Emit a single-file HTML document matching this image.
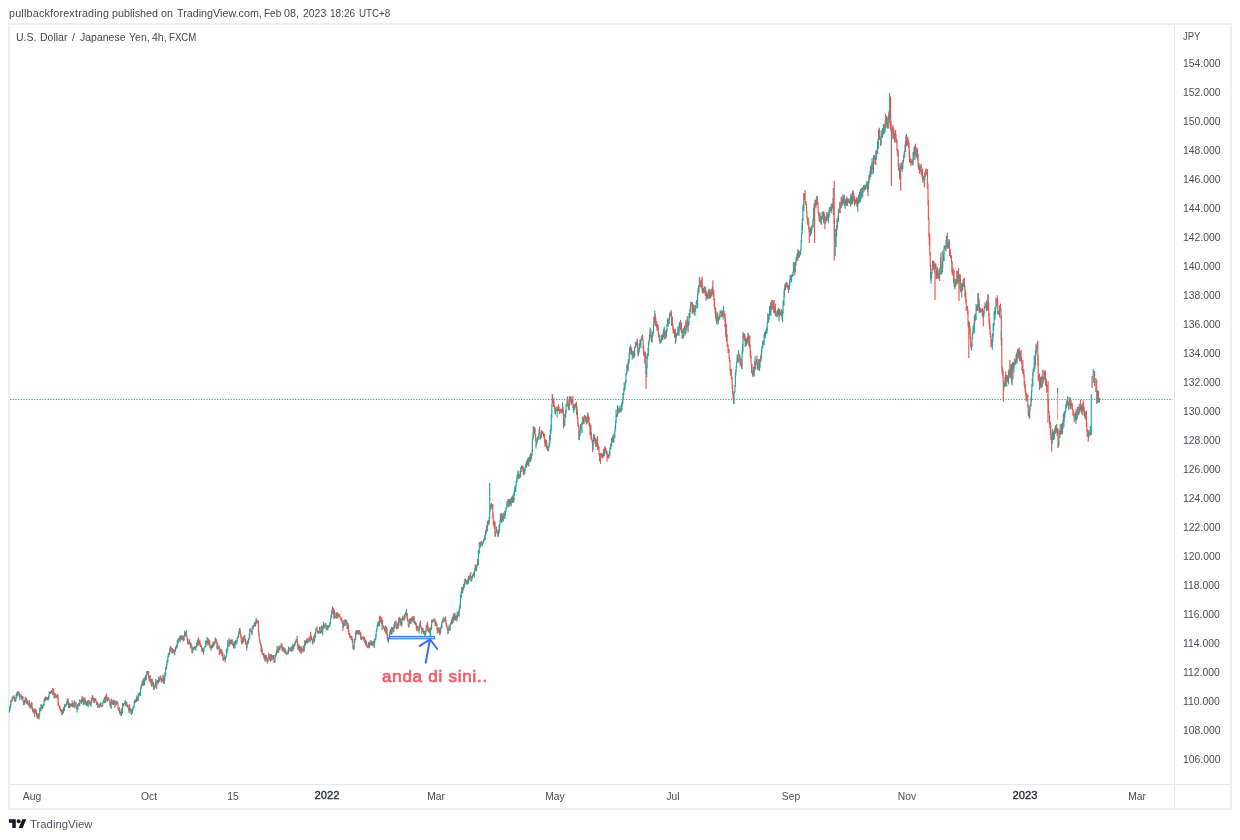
<!DOCTYPE html>
<html><head><meta charset="utf-8"><style>
html,body{-webkit-font-smoothing:antialiased;margin:0;padding:0;background:#fff;width:1240px;height:840px;overflow:hidden;position:relative;font-family:"Liberation Sans",sans-serif;}
.hdr,.sym,.pl,.tl,.jpy,.brand,.note{will-change:transform;}
.hdr{position:absolute;top:7px;font-size:10.75px;color:#434651;white-space:nowrap;line-height:13px;}
.frame{position:absolute;left:8px;top:23px;width:1220px;height:783px;border:2px solid #eceef3;}
.vl{position:absolute;left:1174px;top:25px;width:1px;height:783px;background:#e3e4e9;}
.hl{position:absolute;left:10px;top:784px;width:1220px;height:1px;background:#e6e7ea;}
.sym{position:absolute;top:31px;font-size:10.5px;color:#434651;white-space:nowrap;line-height:13px;}
.pl{position:absolute;left:1183px;font-size:10.4px;color:#4a4d57;line-height:13px;white-space:nowrap;}
.tl{position:absolute;top:790px;width:60px;text-align:center;font-size:10.3px;color:#4a4d57;line-height:13px;}
.tl.b{font-weight:normal;color:#2a2e39;font-size:11.2px;-webkit-text-stroke:0.35px #2a2e39;top:789.1px;}
.jpy{position:absolute;left:1183px;top:30px;font-size:10.3px;color:#4a4d57;line-height:13px;}
.brand{position:absolute;left:30px;top:818px;font-size:11.35px;color:#50535e;line-height:13px;}
.note{position:absolute;left:382px;top:666.8px;font-size:17px;letter-spacing:0.75px;font-weight:normal;-webkit-text-stroke:0.7px #f45b6b;color:#f45b6b;line-height:20px;white-space:nowrap;}
svg{position:absolute;left:0;top:0;}
.sx{display:inline-block;transform-origin:0 0;}
</style></head><body>
<div class="hdr" style="left:9.4px"><span style="letter-spacing:0.2px">pullbackforextrading</span></div><div class="hdr" style="left:112.0px">published</div><div class="hdr" style="left:161.0px">on</div><div class="hdr" style="left:176.6px">TradingView.com,</div><div class="hdr" style="left:263.9px"><span class="sx" style="transform:scaleX(.93)">Feb</span></div><div class="hdr" style="left:284.2px">08,</div><div class="hdr" style="left:303.4px"><span class="sx" style="transform:scaleX(.97)">2023</span></div><div class="hdr" style="left:329.8px"><span class="sx" style="transform:scaleX(.93)">18:26</span></div><div class="hdr" style="left:358.5px"><span class="sx" style="transform:scaleX(.91)">UTC+8</span></div>
<div class="frame"></div>
<div class="vl"></div><div class="hl"></div>
<div class="sym" style="left:15.6px">U.S.</div><div class="sym" style="left:39.8px">Dollar</div><div class="sym" style="left:72.0px">/</div><div class="sym" style="left:80.2px">Japanese</div><div class="sym" style="left:128.5px">Yen,</div><div class="sym" style="left:151.9px">4h,</div><div class="sym" style="left:169.4px"><span class="sx" style="transform:scaleX(.92)">FXCM</span></div>
<div class="jpy"><span class="sx" style="transform:scaleX(.92)">JPY</span></div>
<div class="pl" style="top:56.8px">154.000</div><div class="pl" style="top:85.8px">152.000</div><div class="pl" style="top:114.8px">150.000</div><div class="pl" style="top:143.8px">148.000</div><div class="pl" style="top:172.8px">146.000</div><div class="pl" style="top:201.8px">144.000</div><div class="pl" style="top:230.8px">142.000</div><div class="pl" style="top:259.8px">140.000</div><div class="pl" style="top:288.8px">138.000</div><div class="pl" style="top:317.8px">136.000</div><div class="pl" style="top:346.8px">134.000</div><div class="pl" style="top:375.8px">132.000</div><div class="pl" style="top:404.8px">130.000</div><div class="pl" style="top:433.8px">128.000</div><div class="pl" style="top:462.8px">126.000</div><div class="pl" style="top:491.8px">124.000</div><div class="pl" style="top:520.8px">122.000</div><div class="pl" style="top:549.8px">120.000</div><div class="pl" style="top:578.8px">118.000</div><div class="pl" style="top:607.8px">116.000</div><div class="pl" style="top:636.8px">114.000</div><div class="pl" style="top:665.8px">112.000</div><div class="pl" style="top:694.8px">110.000</div><div class="pl" style="top:723.8px">108.000</div><div class="pl" style="top:752.8px">106.000</div>
<div class="tl" style="left:1.5px">Aug</div><div class="tl" style="left:119.0px">Oct</div><div class="tl" style="left:203.0px">15</div><div class="tl b" style="left:297.0px">2022</div><div class="tl" style="left:406.0px">Mar</div><div class="tl" style="left:525.0px">May</div><div class="tl" style="left:643.0px">Jul</div><div class="tl" style="left:761.0px">Sep</div><div class="tl" style="left:876.5px">Nov</div><div class="tl b" style="left:995.0px">2023</div><div class="tl" style="left:1106.5px">Mar</div>
<svg width="1240" height="840" viewBox="0 0 1240 840">
<line x1="10" y1="399.5" x2="1172.5" y2="399.5" stroke="#26a69a" stroke-width="1" stroke-dasharray="1.2 1.49"/>
<g fill="none" stroke-width="1.15"><path stroke="#26a69a" d="M9.5 706.6V712.5M9.9 706.3V710.8M10.4 704.1V708.4M10.8 699.7V705.8"/><path stroke="#ef5350" d="M11.3 700.2V702.8"/><path stroke="#26a69a" d="M11.8 699.5V701.7M12.2 696.8V700.8M12.7 697.0V699.9"/><path stroke="#ef5350" d="M13.1 695.7V698.4"/><path stroke="#26a69a" d="M13.6 696.9V698.1M14.0 695.2V698.8"/><path stroke="#ef5350" d="M14.4 696.4V701.4M14.9 699.1V701.3M15.4 699.4V702.0"/><path stroke="#26a69a" d="M15.8 697.2V701.4M16.2 693.5V698.9M16.7 693.9V697.6M17.1 691.8V695.2"/><path stroke="#ef5350" d="M17.6 691.3V695.7"/><path stroke="#26a69a" d="M18.1 691.4V695.6M18.5 691.6V694.1"/><path stroke="#ef5350" d="M19.0 692.2V694.6M19.4 692.6V697.6"/><path stroke="#26a69a" d="M19.9 694.7V700.2M20.3 694.2V696.7"/><path stroke="#ef5350" d="M20.8 694.6V696.3M21.2 694.5V697.8"/><path stroke="#26a69a" d="M21.6 695.8V699.4M22.1 696.5V697.4"/><path stroke="#ef5350" d="M22.6 695.9V699.6M23.0 696.2V701.8M23.5 700.7V704.7"/><path stroke="#26a69a" d="M23.9 700.7V705.2"/><path stroke="#ef5350" d="M24.4 699.7V703.5"/><path stroke="#26a69a" d="M24.8 701.6V704.5M25.2 697.4V702.4"/><path stroke="#ef5350" d="M25.7 697.1V699.9"/><path stroke="#26a69a" d="M26.2 698.6V700.9"/><path stroke="#ef5350" d="M26.6 698.4V703.8"/><path stroke="#26a69a" d="M27.1 701.6V703.3M27.5 700.3V704.3"/><path stroke="#ef5350" d="M27.9 700.3V704.8"/><path stroke="#26a69a" d="M28.4 703.4V705.7M28.9 702.8V704.8"/><path stroke="#ef5350" d="M29.3 700.3V707.6M29.8 704.9V707.2"/><path stroke="#26a69a" d="M30.2 704.6V708.7"/><path stroke="#ef5350" d="M30.7 704.8V707.0"/><path stroke="#26a69a" d="M31.1 702.9V707.4"/><path stroke="#ef5350" d="M31.6 702.1V707.5M32.0 703.0V709.4M32.5 706.7V711.8M32.9 708.2V712.6M33.4 708.8V711.5M33.8 711.0V713.3"/><path stroke="#26a69a" d="M34.2 708.5V714.0"/><path stroke="#ef5350" d="M34.7 709.8V717.1"/><path stroke="#26a69a" d="M35.2 708.5V713.7"/><path stroke="#ef5350" d="M35.6 709.7V712.4"/><path stroke="#26a69a" d="M36.0 710.9V712.7"/><path stroke="#ef5350" d="M36.5 709.7V715.5M37.0 713.1V718.3"/><path stroke="#26a69a" d="M37.4 714.7V717.9"/><path stroke="#ef5350" d="M37.9 714.8V718.6"/><path stroke="#26a69a" d="M38.3 713.0V718.7"/><path stroke="#ef5350" d="M38.8 715.2V717.9M39.0 714.5V719.5"/><path stroke="#26a69a" d="M39.2 715.0V717.2M39.7 708.1V715.6M40.1 707.3V709.7"/><path stroke="#ef5350" d="M40.5 707.7V711.1"/><path stroke="#26a69a" d="M41.0 704.3V711.2"/><path stroke="#ef5350" d="M41.5 704.4V707.7"/><path stroke="#26a69a" d="M41.9 704.4V709.1"/><path stroke="#ef5350" d="M42.4 705.2V709.0"/><path stroke="#26a69a" d="M42.8 704.8V708.2M43.2 704.9V706.5M43.7 703.4V706.0M44.1 699.2V705.5M44.6 697.9V702.3"/><path stroke="#ef5350" d="M45.1 697.6V700.7"/><path stroke="#26a69a" d="M45.5 696.5V700.4"/><path stroke="#ef5350" d="M46.0 696.5V699.0M46.4 697.8V700.2"/><path stroke="#26a69a" d="M46.9 697.1V699.8"/><path stroke="#ef5350" d="M47.3 697.0V699.4M47.8 697.1V700.6"/><path stroke="#26a69a" d="M48.2 697.1V700.5M48.6 695.8V698.9M49.1 691.3V698.5"/><path stroke="#ef5350" d="M49.6 692.1V694.1M50.0 693.2V694.1"/><path stroke="#26a69a" d="M50.5 691.2V694.1M50.9 691.7V694.1"/><path stroke="#ef5350" d="M51.4 690.3V693.1"/><path stroke="#26a69a" d="M51.8 690.6V693.1M52.2 690.6V691.6"/><path stroke="#ef5350" d="M52.7 687.9V695.1"/><path stroke="#26a69a" d="M53.1 691.9V694.1"/><path stroke="#ef5350" d="M53.6 689.0V695.2M54.1 692.1V698.2"/><path stroke="#26a69a" d="M54.5 696.0V698.2M55.0 693.7V698.0"/><path stroke="#ef5350" d="M55.4 693.2V697.4M55.9 694.3V697.5M56.3 696.1V698.0"/><path stroke="#26a69a" d="M56.8 695.6V697.6M57.2 695.1V697.0"/><path stroke="#ef5350" d="M57.6 693.7V699.6M58.1 695.3V705.8M58.6 701.8V706.1M59.0 705.9V706.2M59.5 705.4V708.2M59.9 705.7V709.7M60.4 707.5V711.2"/><path stroke="#26a69a" d="M60.8 709.2V710.5"/><path stroke="#ef5350" d="M61.2 709.3V712.4M61.7 709.7V714.5"/><path stroke="#26a69a" d="M62.1 711.9V715.3M62.6 709.9V714.3"/><path stroke="#ef5350" d="M63.1 709.1V712.3"/><path stroke="#26a69a" d="M63.5 707.4V713.1"/><path stroke="#ef5350" d="M64.0 707.3V710.3"/><path stroke="#26a69a" d="M64.4 705.9V710.9M64.8 703.8V707.8"/><path stroke="#ef5350" d="M65.3 704.2V707.1"/><path stroke="#26a69a" d="M65.8 705.0V706.8M66.2 703.4V705.8M66.7 701.2V704.4M67.1 699.0V704.8M67.6 698.7V704.4"/><path stroke="#ef5350" d="M68.0 698.5V703.4M68.5 700.9V708.0"/><path stroke="#26a69a" d="M68.9 706.8V707.9M69.3 703.1V708.1"/><path stroke="#ef5350" d="M69.8 703.9V708.2"/><path stroke="#26a69a" d="M70.2 703.4V707.2M70.7 703.4V706.1"/><path stroke="#ef5350" d="M71.2 704.2V706.4"/><path stroke="#26a69a" d="M71.6 704.2V706.5M72.1 700.6V704.9"/><path stroke="#ef5350" d="M72.5 702.8V707.4M73.0 702.5V704.2"/><path stroke="#26a69a" d="M73.4 703.1V706.8"/><path stroke="#ef5350" d="M73.9 702.9V704.6"/><path stroke="#26a69a" d="M74.3 700.6V708.2"/><path stroke="#ef5350" d="M74.8 700.9V706.3M75.2 703.4V705.4M75.7 704.2V705.1M76.1 702.0V708.7M76.5 706.4V707.9"/><path stroke="#26a69a" d="M77.0 705.1V712.5"/><path stroke="#ef5350" d="M77.5 706.0V709.9"/><path stroke="#26a69a" d="M77.9 704.1V710.1"/><path stroke="#ef5350" d="M78.4 702.9V705.1"/><path stroke="#26a69a" d="M78.8 703.9V705.7M79.2 702.4V705.7M79.7 699.2V706.3M80.2 701.3V702.4M80.6 700.3V701.9"/><path stroke="#ef5350" d="M81.0 700.8V703.4"/><path stroke="#26a69a" d="M81.5 699.0V703.7"/><path stroke="#ef5350" d="M82.0 695.8V701.4"/><path stroke="#26a69a" d="M82.4 699.0V702.3M82.9 696.8V701.2"/><path stroke="#ef5350" d="M83.3 697.6V705.3"/><path stroke="#26a69a" d="M83.8 700.6V705.1M84.2 699.0V701.8"/><path stroke="#ef5350" d="M84.7 697.3V704.3"/><path stroke="#26a69a" d="M85.1 699.3V703.7"/><path stroke="#ef5350" d="M85.5 700.1V704.2M86.0 702.7V705.3"/><path stroke="#26a69a" d="M86.5 701.3V705.7M86.9 701.1V704.0M87.4 702.2V706.1"/><path stroke="#ef5350" d="M87.8 700.5V703.6"/><path stroke="#26a69a" d="M88.2 700.0V706.9"/><path stroke="#ef5350" d="M88.7 700.0V702.9M89.2 700.2V703.1M89.6 702.1V704.2"/><path stroke="#26a69a" d="M90.0 701.4V704.9"/><path stroke="#ef5350" d="M90.5 701.8V705.7"/><path stroke="#26a69a" d="M91.0 701.8V706.8M91.4 697.8V702.5M91.9 698.7V700.7M92.3 695.3V699.7"/><path stroke="#ef5350" d="M92.8 695.5V698.0M93.2 697.3V702.6M93.7 697.8V700.5M94.1 698.9V702.4"/><path stroke="#26a69a" d="M94.5 698.5V702.9"/><path stroke="#ef5350" d="M95.0 698.5V700.5"/><path stroke="#26a69a" d="M95.5 698.3V700.6"/><path stroke="#ef5350" d="M95.9 698.2V701.7M96.4 700.8V704.9M96.8 702.6V703.9"/><path stroke="#26a69a" d="M97.2 701.7V704.9"/><path stroke="#ef5350" d="M97.7 702.4V707.5M98.2 706.3V707.9"/><path stroke="#26a69a" d="M98.6 705.3V707.1M99.0 703.6V705.8M99.5 703.9V707.7"/><path stroke="#ef5350" d="M100.0 704.1V705.5"/><path stroke="#26a69a" d="M100.4 703.1V706.5"/><path stroke="#ef5350" d="M100.9 702.1V705.1M101.3 704.5V706.3M101.8 705.3V707.5"/><path stroke="#26a69a" d="M102.2 705.5V706.4M102.7 702.7V706.4M103.1 701.8V703.7M103.5 699.8V702.5M104.0 698.6V700.4"/><path stroke="#ef5350" d="M104.5 697.3V702.8"/><path stroke="#26a69a" d="M104.9 696.7V703.3"/><path stroke="#ef5350" d="M105.4 696.8V701.7"/><path stroke="#26a69a" d="M105.8 695.4V702.7"/><path stroke="#ef5350" d="M106.2 695.8V698.0M106.7 693.6V699.9"/><path stroke="#26a69a" d="M107.2 697.4V700.7"/><path stroke="#ef5350" d="M107.6 697.6V701.6"/><path stroke="#26a69a" d="M108.0 697.2V699.3"/><path stroke="#ef5350" d="M108.5 697.7V700.1M109.0 698.6V700.6M109.4 700.2V701.1M109.9 700.4V706.5"/><path stroke="#26a69a" d="M110.3 701.7V705.4"/><path stroke="#ef5350" d="M110.8 702.9V707.6"/><path stroke="#26a69a" d="M111.2 698.5V708.9"/><path stroke="#ef5350" d="M111.7 699.3V703.6M112.1 700.0V704.3"/><path stroke="#26a69a" d="M112.5 701.4V704.5"/><path stroke="#ef5350" d="M113.0 700.7V704.5"/><path stroke="#26a69a" d="M113.5 699.7V705.1M113.9 700.7V703.8"/><path stroke="#ef5350" d="M114.4 700.7V702.6M114.8 699.7V707.8"/><path stroke="#26a69a" d="M115.2 702.1V705.7"/><path stroke="#ef5350" d="M115.7 701.7V702.9"/><path stroke="#26a69a" d="M116.2 700.9V703.8"/><path stroke="#ef5350" d="M116.6 701.1V705.2"/><path stroke="#26a69a" d="M117.0 700.8V703.8"/><path stroke="#ef5350" d="M117.5 702.0V704.1M118.0 703.0V709.3"/><path stroke="#26a69a" d="M118.4 708.4V710.8"/><path stroke="#ef5350" d="M118.9 707.6V709.6M119.3 706.9V712.4M119.8 709.5V713.6"/><path stroke="#26a69a" d="M120.2 711.6V715.2"/><path stroke="#ef5350" d="M120.7 712.1V715.6"/><path stroke="#26a69a" d="M121.1 712.0V714.7M121.5 708.6V716.0"/><path stroke="#ef5350" d="M122.0 709.4V712.1"/><path stroke="#26a69a" d="M122.5 702.9V713.6"/><path stroke="#ef5350" d="M122.9 704.5V706.0M123.4 703.8V706.5"/><path stroke="#26a69a" d="M123.8 703.1V706.1M124.2 702.8V704.5M124.7 701.9V703.8M125.2 700.0V703.3"/><path stroke="#ef5350" d="M125.6 701.1V705.4"/><path stroke="#26a69a" d="M126.0 703.0V706.2M126.5 701.8V703.2"/><path stroke="#ef5350" d="M127.0 702.6V706.9"/><path stroke="#26a69a" d="M127.4 704.6V706.8"/><path stroke="#ef5350" d="M127.9 704.9V707.8M128.3 707.0V708.6M128.8 707.2V711.5"/><path stroke="#26a69a" d="M129.2 704.6V713.2"/><path stroke="#ef5350" d="M129.7 704.2V711.5M130.1 710.4V711.5"/><path stroke="#26a69a" d="M130.6 708.3V711.2"/><path stroke="#ef5350" d="M131.0 709.5V713.7"/><path stroke="#26a69a" d="M131.4 709.4V714.9"/><path stroke="#ef5350" d="M131.9 709.7V712.1"/><path stroke="#26a69a" d="M132.4 708.6V713.6M132.8 707.4V709.9M133.2 706.5V710.2M133.7 705.7V707.5M134.2 701.4V708.1"/><path stroke="#ef5350" d="M134.6 700.2V703.0"/><path stroke="#26a69a" d="M135.1 699.2V703.2"/><path stroke="#ef5350" d="M135.5 699.6V702.9"/><path stroke="#26a69a" d="M135.9 699.9V702.2M136.4 697.6V702.0M136.9 695.4V700.5"/><path stroke="#ef5350" d="M137.3 696.4V700.9M137.8 697.1V701.2"/><path stroke="#26a69a" d="M138.2 693.6V701.1M138.7 694.3V697.2M139.1 692.3V695.2"/><path stroke="#ef5350" d="M139.6 693.7V695.0"/><path stroke="#26a69a" d="M140.0 692.9V695.4M140.5 688.0V696.0M140.9 686.5V689.4M141.3 684.5V688.8M141.8 683.3V687.1M142.2 680.6V685.2"/><path stroke="#ef5350" d="M142.7 682.1V686.0"/><path stroke="#26a69a" d="M143.2 678.2V685.6"/><path stroke="#ef5350" d="M143.6 679.5V684.7"/><path stroke="#26a69a" d="M144.1 679.7V684.9M144.5 678.0V685.3M145.0 676.4V678.9M145.4 675.4V679.2"/><path stroke="#ef5350" d="M145.8 675.5V681.2"/><path stroke="#26a69a" d="M146.3 674.5V680.0M146.8 671.3V675.5"/><path stroke="#ef5350" d="M147.2 670.9V674.0M147.7 673.7V674.5"/><path stroke="#26a69a" d="M148.1 671.0V674.7"/><path stroke="#ef5350" d="M148.6 670.9V677.9M149.0 676.5V680.8M149.5 676.0V681.6"/><path stroke="#26a69a" d="M149.9 678.9V680.7"/><path stroke="#ef5350" d="M150.3 674.9V682.3M150.8 680.3V682.8"/><path stroke="#26a69a" d="M151.2 678.8V685.3"/><path stroke="#ef5350" d="M151.7 679.6V686.9"/><path stroke="#26a69a" d="M152.2 678.4V684.3"/><path stroke="#ef5350" d="M152.6 681.7V686.0"/><path stroke="#26a69a" d="M153.1 683.8V686.1"/><path stroke="#ef5350" d="M153.5 682.1V689.7"/><path stroke="#26a69a" d="M154.0 685.3V690.1M154.4 687.3V688.6M154.8 686.0V687.9M155.3 682.9V687.6M155.8 678.8V684.8"/><path stroke="#ef5350" d="M156.2 680.4V682.1M156.7 681.2V689.0"/><path stroke="#26a69a" d="M157.1 680.6V685.2"/><path stroke="#ef5350" d="M157.6 679.9V682.4"/><path stroke="#26a69a" d="M158.0 680.5V682.1M158.5 676.8V683.4"/><path stroke="#ef5350" d="M158.9 676.7V680.6M159.3 678.2V681.5"/><path stroke="#26a69a" d="M159.8 678.5V681.7M160.2 676.0V679.0"/><path stroke="#ef5350" d="M160.7 675.4V680.2M161.2 678.2V680.2M161.6 678.7V682.8"/><path stroke="#26a69a" d="M162.1 677.6V681.7"/><path stroke="#ef5350" d="M162.5 679.6V681.2"/><path stroke="#26a69a" d="M163.0 674.7V682.0"/><path stroke="#ef5350" d="M163.4 675.4V679.9M163.8 677.2V683.9"/><path stroke="#26a69a" d="M164.3 677.7V683.8M164.8 672.5V680.3M165.2 674.5V676.5M165.7 666.7V676.2"/><path stroke="#ef5350" d="M166.1 667.8V669.9"/><path stroke="#26a69a" d="M166.6 664.6V668.9M167.0 660.8V666.3M167.5 658.7V663.0M167.9 655.8V662.4M168.3 653.3V657.3M168.8 653.1V657.0M169.2 652.0V654.9M169.7 648.4V654.3M170.2 646.4V649.1"/><path stroke="#ef5350" d="M170.6 645.8V651.9M171.1 647.1V649.2M171.5 648.1V649.2M172.0 648.2V653.8"/><path stroke="#26a69a" d="M172.4 648.2V653.1"/><path stroke="#ef5350" d="M172.8 649.1V651.8M173.3 648.9V652.9"/><path stroke="#26a69a" d="M173.8 650.7V652.4"/><path stroke="#ef5350" d="M174.2 650.4V653.8"/><path stroke="#26a69a" d="M174.7 649.4V655.5"/><path stroke="#ef5350" d="M175.1 649.8V651.8"/><path stroke="#26a69a" d="M175.6 646.8V651.7"/><path stroke="#ef5350" d="M176.0 646.7V649.0"/><path stroke="#26a69a" d="M176.5 645.2V648.4"/><path stroke="#ef5350" d="M176.9 644.0V646.8"/><path stroke="#26a69a" d="M177.3 639.4V647.6"/><path stroke="#ef5350" d="M177.8 640.4V642.3"/><path stroke="#26a69a" d="M178.2 639.2V643.4M178.7 638.0V639.6"/><path stroke="#ef5350" d="M179.2 638.1V641.1"/><path stroke="#26a69a" d="M179.6 636.4V641.0M180.1 636.3V642.3"/><path stroke="#ef5350" d="M180.5 635.6V639.2M181.0 634.9V639.4"/><path stroke="#26a69a" d="M181.4 636.2V639.3"/><path stroke="#ef5350" d="M181.8 636.5V640.2"/><path stroke="#26a69a" d="M182.3 635.4V639.8"/><path stroke="#ef5350" d="M182.8 637.5V638.9M183.2 635.2V641.5M183.7 637.6V640.5"/><path stroke="#26a69a" d="M184.1 635.8V640.2M184.6 630.6V637.1M185.0 634.4V636.7M185.5 633.8V635.9M185.9 631.9V635.4"/><path stroke="#ef5350" d="M186.3 630.2V635.7M186.8 634.9V637.9M187.2 637.4V640.6M187.7 637.9V643.9"/><path stroke="#26a69a" d="M188.2 641.7V644.8M188.6 641.4V642.7M189.1 639.6V643.8"/><path stroke="#ef5350" d="M189.5 639.2V643.4M190.0 642.5V644.8M190.4 642.4V647.3"/><path stroke="#26a69a" d="M190.8 642.5V648.6"/><path stroke="#ef5350" d="M191.3 643.7V647.1M191.8 645.6V652.1M192.2 646.0V653.6"/><path stroke="#26a69a" d="M192.7 648.1V653.1M193.1 648.2V650.5M193.6 647.1V650.0M194.0 647.2V647.9M194.5 646.7V648.4"/><path stroke="#ef5350" d="M194.9 645.7V649.8M195.3 646.0V649.4"/><path stroke="#26a69a" d="M195.8 647.1V650.8M196.2 646.6V648.0M196.7 642.3V647.3M197.2 642.5V644.3M197.6 639.6V645.9M198.1 640.0V641.9"/><path stroke="#ef5350" d="M198.5 637.3V645.6"/><path stroke="#26a69a" d="M199.0 641.7V643.7M199.4 640.9V643.7"/><path stroke="#ef5350" d="M199.8 639.5V645.5M200.3 642.7V647.1"/><path stroke="#26a69a" d="M200.8 645.2V645.9"/><path stroke="#ef5350" d="M201.2 644.6V647.0M201.7 646.0V650.7M202.1 649.2V652.2"/><path stroke="#26a69a" d="M202.6 647.8V652.0"/><path stroke="#ef5350" d="M203.0 648.8V651.6M203.5 648.9V654.5"/><path stroke="#26a69a" d="M203.9 647.5V652.3M204.3 647.3V648.0M204.8 645.8V648.0M205.2 645.7V647.3M205.7 640.6V647.0M206.2 641.1V642.8"/><path stroke="#ef5350" d="M206.6 640.8V644.9"/><path stroke="#26a69a" d="M207.1 636.9V643.2M207.5 639.6V642.9M208.0 638.0V645.7"/><path stroke="#ef5350" d="M208.4 638.5V644.2M208.8 643.3V644.3"/><path stroke="#26a69a" d="M209.3 640.4V644.8"/><path stroke="#ef5350" d="M209.8 640.2V647.4M210.2 645.8V648.4M210.7 646.0V648.6"/><path stroke="#26a69a" d="M211.1 644.3V650.8"/><path stroke="#ef5350" d="M211.6 646.0V648.2"/><path stroke="#26a69a" d="M212.0 645.3V648.2M212.5 644.7V647.9"/><path stroke="#ef5350" d="M212.9 642.3V646.8"/><path stroke="#26a69a" d="M213.3 642.5V647.1M213.8 641.4V644.8"/><path stroke="#ef5350" d="M214.2 642.2V645.7"/><path stroke="#26a69a" d="M214.7 641.0V644.4M215.2 637.5V643.1"/><path stroke="#ef5350" d="M215.6 637.9V641.6"/><path stroke="#26a69a" d="M216.1 640.1V641.3"/><path stroke="#ef5350" d="M216.5 639.3V643.7M217.0 641.8V648.7"/><path stroke="#26a69a" d="M217.4 643.8V649.8"/><path stroke="#ef5350" d="M217.8 643.7V648.6"/><path stroke="#26a69a" d="M218.3 646.0V649.1"/><path stroke="#ef5350" d="M218.8 646.2V648.0M219.2 645.7V655.2M219.7 651.2V652.0"/><path stroke="#26a69a" d="M220.1 647.9V653.9"/><path stroke="#ef5350" d="M220.6 650.1V653.3"/><path stroke="#26a69a" d="M221.0 649.3V654.0"/><path stroke="#ef5350" d="M221.5 649.5V653.8M221.9 650.1V655.7M222.3 652.8V656.2M222.8 652.6V658.7M223.2 656.7V661.1M223.7 658.3V660.3"/><path stroke="#26a69a" d="M224.2 654.2V659.7M224.6 657.2V659.6"/><path stroke="#ef5350" d="M225.1 656.6V662.6"/><path stroke="#26a69a" d="M225.5 656.9V660.3M226.0 655.5V658.0M226.4 649.1V656.8M226.8 649.3V654.4M227.3 647.5V652.7M227.8 639.7V649.7"/><path stroke="#ef5350" d="M228.2 642.2V644.8M228.7 643.3V647.1"/><path stroke="#26a69a" d="M229.1 638.1V646.8"/><path stroke="#ef5350" d="M229.6 640.1V642.5M230.0 641.4V644.0"/><path stroke="#26a69a" d="M230.5 640.3V644.6"/><path stroke="#ef5350" d="M230.9 639.3V644.3"/><path stroke="#26a69a" d="M231.3 639.9V643.7M231.8 639.7V641.6"/><path stroke="#ef5350" d="M232.2 638.9V644.7"/><path stroke="#26a69a" d="M232.7 643.6V645.7M233.2 642.4V645.7"/><path stroke="#ef5350" d="M233.6 643.5V648.5"/><path stroke="#26a69a" d="M234.1 640.9V647.6"/><path stroke="#ef5350" d="M234.5 642.5V647.7"/><path stroke="#26a69a" d="M235.0 641.7V648.5"/><path stroke="#ef5350" d="M235.4 640.7V643.2"/><path stroke="#26a69a" d="M235.8 639.7V644.6"/><path stroke="#ef5350" d="M236.3 640.6V642.2"/><path stroke="#26a69a" d="M236.8 641.0V644.4M237.2 637.2V642.0"/><path stroke="#ef5350" d="M237.7 637.2V638.9"/><path stroke="#26a69a" d="M238.1 634.4V638.1M238.6 632.6V637.4M239.0 630.5V634.2M239.5 627.9V634.0"/><path stroke="#ef5350" d="M239.9 627.7V632.6M240.3 630.2V636.0M240.8 634.1V638.0M241.2 635.4V642.0M241.7 641.1V643.9"/><path stroke="#26a69a" d="M242.2 640.4V644.4M242.6 638.1V642.4"/><path stroke="#ef5350" d="M243.1 636.1V640.4M243.5 637.6V642.6"/><path stroke="#26a69a" d="M244.0 637.1V641.2M244.4 635.0V639.8"/><path stroke="#ef5350" d="M244.8 635.4V639.1M245.3 638.6V644.2M245.8 639.5V644.7M246.2 641.8V645.3M246.7 645.1V650.5"/><path stroke="#26a69a" d="M247.1 644.0V647.7M247.6 640.9V644.8"/><path stroke="#ef5350" d="M248.0 639.9V642.5"/><path stroke="#26a69a" d="M248.5 638.0V643.6M248.9 637.7V640.3M249.3 633.6V639.3M249.8 628.2V637.6M250.2 630.0V631.9"/><path stroke="#ef5350" d="M250.7 628.8V631.1M251.2 630.1V632.5M251.6 630.9V633.7"/><path stroke="#26a69a" d="M252.1 626.9V635.2M252.5 626.4V628.8"/><path stroke="#ef5350" d="M253.0 625.4V629.5"/><path stroke="#26a69a" d="M253.4 625.0V628.7M253.8 625.7V626.4M254.3 622.7V626.1M254.8 622.0V626.3"/><path stroke="#ef5350" d="M255.2 622.9V626.7"/><path stroke="#26a69a" d="M255.7 621.0V625.7M256.1 617.8V623.4M256.6 619.6V623.6"/><path stroke="#ef5350" d="M257.0 620.1V622.6M257.5 619.8V622.4M257.9 620.3V623.7M258.4 621.1V632.5M258.8 630.5V636.1M259.2 634.2V639.0M259.7 638.4V642.2M260.1 640.2V643.9M260.6 642.7V646.0M261.1 644.6V651.9"/><path stroke="#26a69a" d="M261.5 645.4V651.4"/><path stroke="#ef5350" d="M262.0 647.4V653.4M262.4 650.6V655.3M262.9 653.0V655.2"/><path stroke="#26a69a" d="M263.3 653.6V655.8"/><path stroke="#ef5350" d="M263.8 653.1V657.8"/><path stroke="#26a69a" d="M264.2 655.0V659.1"/><path stroke="#ef5350" d="M264.6 654.5V659.7M265.1 657.2V661.9"/><path stroke="#26a69a" d="M265.6 654.6V660.4M266.0 654.8V660.1"/><path stroke="#ef5350" d="M266.4 655.5V660.3M266.9 658.1V661.6M267.4 659.5V663.3"/><path stroke="#26a69a" d="M267.8 659.1V661.0M268.2 656.9V661.7M268.7 652.4V658.3"/><path stroke="#ef5350" d="M269.2 654.0V658.9M269.6 657.7V660.3"/><path stroke="#26a69a" d="M270.1 656.3V659.8"/><path stroke="#ef5350" d="M270.5 654.2V662.0M270.9 656.4V659.3M271.4 653.9V659.2"/><path stroke="#26a69a" d="M271.9 655.0V661.1"/><path stroke="#ef5350" d="M272.3 656.0V658.1"/><path stroke="#26a69a" d="M272.8 655.9V659.7"/><path stroke="#ef5350" d="M273.2 655.2V658.5M273.7 655.1V659.1M274.1 657.7V662.9M274.6 660.2V662.7"/><path stroke="#26a69a" d="M275.0 654.8V662.4M275.4 654.7V657.3M275.9 652.8V656.4M276.4 650.2V655.1"/><path stroke="#ef5350" d="M276.8 649.4V653.8"/><path stroke="#26a69a" d="M277.2 646.1V652.6"/><path stroke="#ef5350" d="M277.7 647.1V652.0"/><path stroke="#26a69a" d="M278.2 650.9V653.0M278.6 647.8V652.7M279.1 645.2V650.6"/><path stroke="#ef5350" d="M279.5 646.3V650.1"/><path stroke="#26a69a" d="M279.9 647.2V650.0M280.4 646.2V647.8"/><path stroke="#ef5350" d="M280.9 645.2V647.2"/><path stroke="#26a69a" d="M281.3 643.3V648.5"/><path stroke="#ef5350" d="M281.8 643.3V647.0M282.2 645.2V651.3"/><path stroke="#26a69a" d="M282.7 647.3V649.9"/><path stroke="#ef5350" d="M283.1 647.8V651.5"/><path stroke="#26a69a" d="M283.6 647.1V650.0"/><path stroke="#ef5350" d="M284.0 647.5V652.5M284.4 649.7V652.3"/><path stroke="#26a69a" d="M284.9 648.0V653.6M285.4 650.0V652.5"/><path stroke="#ef5350" d="M285.8 649.8V654.0M286.2 652.1V653.6"/><path stroke="#26a69a" d="M286.7 652.4V655.0"/><path stroke="#ef5350" d="M287.2 652.5V653.2M287.6 652.3V653.9"/><path stroke="#26a69a" d="M288.1 650.0V654.5M288.5 646.5V653.3M288.9 648.8V651.5M289.4 647.8V649.2"/><path stroke="#ef5350" d="M289.9 647.7V650.7M290.3 647.7V650.5M290.8 649.0V651.6"/><path stroke="#26a69a" d="M291.2 646.3V651.3"/><path stroke="#ef5350" d="M291.7 648.1V649.6"/><path stroke="#26a69a" d="M292.1 646.6V651.6"/><path stroke="#ef5350" d="M292.6 644.6V650.1"/><path stroke="#26a69a" d="M293.0 644.4V651.6"/><path stroke="#ef5350" d="M293.4 646.1V648.9"/><path stroke="#26a69a" d="M293.9 643.9V649.0M294.4 644.0V646.2M294.8 642.4V646.0"/><path stroke="#ef5350" d="M295.2 640.4V644.6"/><path stroke="#26a69a" d="M295.7 641.3V643.9M296.2 639.0V641.8M296.6 639.1V642.3"/><path stroke="#ef5350" d="M297.1 635.7V642.0M297.5 640.6V646.5M297.9 643.2V649.9"/><path stroke="#26a69a" d="M298.4 645.5V649.4"/><path stroke="#ef5350" d="M298.9 644.3V649.8M299.3 645.2V652.3M299.8 647.6V651.2"/><path stroke="#26a69a" d="M300.2 645.9V650.9"/><path stroke="#ef5350" d="M300.7 647.6V652.4M301.1 648.7V653.9"/><path stroke="#26a69a" d="M301.6 646.4V652.8"/><path stroke="#ef5350" d="M302.0 647.7V649.8M302.4 649.0V650.9M302.9 649.1V652.4"/><path stroke="#26a69a" d="M303.4 645.5V651.1"/><path stroke="#ef5350" d="M303.8 647.4V651.1"/><path stroke="#26a69a" d="M304.2 646.7V651.4M304.7 640.3V648.6"/><path stroke="#ef5350" d="M305.2 641.0V646.1"/><path stroke="#26a69a" d="M305.6 640.9V644.9"/><path stroke="#ef5350" d="M306.1 640.1V643.6"/><path stroke="#26a69a" d="M306.5 639.6V643.1"/><path stroke="#ef5350" d="M306.9 638.2V641.9"/><path stroke="#26a69a" d="M307.4 639.5V643.6"/><path stroke="#ef5350" d="M307.9 637.7V642.9"/><path stroke="#26a69a" d="M308.3 640.4V641.8M308.8 639.2V640.9M309.2 637.3V640.3"/><path stroke="#ef5350" d="M309.7 637.4V641.2"/><path stroke="#26a69a" d="M310.1 635.6V642.6"/><path stroke="#ef5350" d="M310.6 631.8V640.5M311.0 637.8V638.9M311.4 635.5V640.2M311.9 638.1V639.3M312.4 639.1V643.8"/><path stroke="#26a69a" d="M312.8 638.9V644.5"/><path stroke="#ef5350" d="M313.2 638.5V640.8"/><path stroke="#26a69a" d="M313.7 636.1V641.8"/><path stroke="#ef5350" d="M314.2 638.2V642.7"/><path stroke="#26a69a" d="M314.6 633.9V641.1"/><path stroke="#ef5350" d="M315.1 633.3V638.0"/><path stroke="#26a69a" d="M315.5 632.2V637.6M315.9 627.9V633.6M316.4 628.6V630.4"/><path stroke="#ef5350" d="M316.9 626.5V631.8M317.3 629.0V632.2"/><path stroke="#26a69a" d="M317.8 631.0V632.7"/><path stroke="#ef5350" d="M318.2 631.2V633.9"/><path stroke="#26a69a" d="M318.7 630.8V633.4M319.1 631.3V633.2M319.6 626.9V632.1"/><path stroke="#ef5350" d="M320.0 626.4V633.3M320.4 631.3V633.9"/><path stroke="#26a69a" d="M320.9 630.1V632.7M321.4 626.9V633.1M321.8 624.7V629.8"/><path stroke="#ef5350" d="M322.2 625.9V631.4"/><path stroke="#26a69a" d="M322.7 627.6V635.5M323.2 626.4V629.2M323.6 621.7V627.0"/><path stroke="#ef5350" d="M324.1 625.0V628.6"/><path stroke="#26a69a" d="M324.5 624.4V628.0M324.9 624.6V626.9M325.4 623.6V626.1"/><path stroke="#ef5350" d="M325.9 622.9V628.3M326.3 625.7V630.0"/><path stroke="#26a69a" d="M326.8 626.3V628.9"/><path stroke="#ef5350" d="M327.2 626.1V629.6"/><path stroke="#26a69a" d="M327.7 624.9V630.6M328.1 625.7V627.9M328.6 626.1V628.6M329.0 624.8V627.2"/><path stroke="#ef5350" d="M329.4 624.7V626.5"/><path stroke="#26a69a" d="M329.9 622.0V626.7M330.4 618.7V624.6M330.8 616.2V620.1M331.2 614.5V618.3M331.7 610.2V617.7M332.2 609.3V613.7"/><path stroke="#ef5350" d="M332.6 606.5V613.8"/><path stroke="#26a69a" d="M333.1 610.4V613.0"/><path stroke="#ef5350" d="M333.5 607.9V614.7M333.9 613.0V619.2"/><path stroke="#26a69a" d="M334.4 609.7V616.9"/><path stroke="#ef5350" d="M334.9 612.0V618.3"/><path stroke="#26a69a" d="M335.3 615.9V617.8M335.8 615.5V618.3M336.2 612.7V616.3"/><path stroke="#ef5350" d="M336.7 612.4V619.0"/><path stroke="#26a69a" d="M337.1 612.3V618.1"/><path stroke="#ef5350" d="M337.6 612.4V615.8M338.0 614.3V618.3"/><path stroke="#26a69a" d="M338.4 613.7V616.5"/><path stroke="#ef5350" d="M338.9 614.2V614.7M339.4 614.2V616.2M339.8 614.1V617.0M340.2 616.1V619.1M340.7 617.9V620.5M341.2 618.8V619.4M341.6 617.4V621.4M342.1 619.4V622.9M342.5 621.1V623.9M342.9 621.4V630.8"/><path stroke="#26a69a" d="M343.4 622.7V628.1M343.9 619.9V626.7M344.3 620.3V621.4"/><path stroke="#ef5350" d="M344.8 621.1V625.5"/><path stroke="#26a69a" d="M345.2 619.1V626.0"/><path stroke="#ef5350" d="M345.7 619.6V620.8M346.1 620.6V623.0"/><path stroke="#26a69a" d="M346.6 619.9V624.4"/><path stroke="#ef5350" d="M347.0 621.7V628.4M347.4 625.4V629.0"/><path stroke="#26a69a" d="M347.9 622.4V629.3"/><path stroke="#ef5350" d="M348.4 624.5V632.6M348.8 629.6V634.9M349.2 633.6V634.4M349.7 633.0V637.9M350.2 635.5V637.5"/><path stroke="#26a69a" d="M350.6 635.6V637.6"/><path stroke="#ef5350" d="M351.1 636.3V639.9"/><path stroke="#26a69a" d="M351.5 636.0V639.6"/><path stroke="#ef5350" d="M351.9 635.8V640.3M352.4 638.4V643.0M352.9 641.6V648.9M353.3 646.3V648.6"/><path stroke="#26a69a" d="M353.8 644.5V650.0M354.2 638.9V648.9M354.7 639.8V642.4M355.1 637.1V640.5M355.6 632.3V639.8M356.0 630.7V633.8"/><path stroke="#ef5350" d="M356.4 630.0V634.4"/><path stroke="#26a69a" d="M356.9 631.7V634.4M357.4 630.4V633.8"/><path stroke="#ef5350" d="M357.8 630.4V632.6M358.2 631.5V634.4M358.7 630.0V634.8M359.2 632.5V634.2"/><path stroke="#26a69a" d="M359.6 630.1V634.2"/><path stroke="#ef5350" d="M360.1 632.5V634.2M360.5 632.2V638.5M360.9 632.7V639.8"/><path stroke="#26a69a" d="M361.4 636.5V640.0M361.9 637.3V638.5"/><path stroke="#ef5350" d="M362.3 637.1V638.6M362.8 636.2V639.3M363.2 638.0V638.9M363.7 636.6V640.5"/><path stroke="#26a69a" d="M364.1 638.6V641.2"/><path stroke="#ef5350" d="M364.6 637.3V642.4"/><path stroke="#26a69a" d="M365.0 638.4V642.7"/><path stroke="#ef5350" d="M365.4 640.2V643.7M365.9 642.2V645.9"/><path stroke="#26a69a" d="M366.4 640.8V645.3"/><path stroke="#ef5350" d="M366.8 642.4V646.9M367.2 644.6V646.8M367.7 645.9V648.3"/><path stroke="#26a69a" d="M368.2 645.8V647.8M368.6 642.3V646.9"/><path stroke="#ef5350" d="M369.1 642.6V648.3"/><path stroke="#26a69a" d="M369.5 643.7V647.6M369.9 641.3V644.4"/><path stroke="#ef5350" d="M370.4 642.4V645.3"/><path stroke="#26a69a" d="M370.9 640.0V645.5"/><path stroke="#ef5350" d="M371.3 640.7V644.5M371.8 642.9V646.0M372.2 643.3V646.1"/><path stroke="#26a69a" d="M372.7 641.8V645.5M373.1 641.1V644.5M373.6 640.7V642.5"/><path stroke="#ef5350" d="M374.0 640.9V646.9"/><path stroke="#26a69a" d="M374.4 639.6V647.9M374.9 638.2V642.5"/><path stroke="#ef5350" d="M375.4 638.0V640.1"/><path stroke="#26a69a" d="M375.8 634.3V639.6M376.2 630.9V636.6M376.7 628.8V632.0M377.2 624.8V629.6M377.6 623.2V627.8M378.1 621.2V624.0"/><path stroke="#ef5350" d="M378.5 621.6V626.0"/><path stroke="#26a69a" d="M378.9 623.0V624.5M379.4 616.4V626.4"/><path stroke="#ef5350" d="M379.9 616.5V618.4M380.3 615.7V622.1M380.8 619.4V623.1"/><path stroke="#26a69a" d="M381.2 620.8V623.4"/><path stroke="#ef5350" d="M381.7 617.0V624.3"/><path stroke="#26a69a" d="M382.1 619.8V629.9"/><path stroke="#ef5350" d="M382.6 620.3V625.8M383.0 625.3V626.6M383.4 625.4V628.3M383.9 626.3V628.9M384.4 627.3V631.3"/><path stroke="#26a69a" d="M384.8 628.4V630.5M385.2 626.3V632.3"/><path stroke="#ef5350" d="M385.7 625.6V633.3M386.2 631.1V634.4"/><path stroke="#26a69a" d="M386.6 627.1V633.5"/><path stroke="#ef5350" d="M387.1 628.7V637.3M387.5 633.9V639.8M387.9 637.2V641.4"/><path stroke="#26a69a" d="M388.4 637.9V642.7M388.9 636.8V639.1M389.3 634.2V636.9M389.8 631.6V635.2M390.2 628.8V633.4M390.7 630.8V632.5M391.1 629.3V634.6"/><path stroke="#ef5350" d="M391.6 627.1V634.6"/><path stroke="#26a69a" d="M392.0 627.3V633.9"/><path stroke="#ef5350" d="M392.4 627.1V631.0M392.9 627.8V629.6M393.4 628.3V632.2"/><path stroke="#26a69a" d="M393.8 625.3V631.9M394.2 623.7V628.7M394.7 621.3V628.3"/><path stroke="#ef5350" d="M395.2 622.5V625.4"/><path stroke="#26a69a" d="M395.6 622.8V624.9"/><path stroke="#ef5350" d="M396.1 620.7V627.8M396.5 626.8V628.7M396.9 627.2V629.6"/><path stroke="#26a69a" d="M397.4 624.0V628.8"/><path stroke="#ef5350" d="M397.9 622.2V628.8"/><path stroke="#26a69a" d="M398.3 621.8V627.9M398.8 617.4V624.0"/><path stroke="#ef5350" d="M399.2 618.0V621.8M399.7 616.8V622.1M400.1 619.3V625.7"/><path stroke="#26a69a" d="M400.6 618.8V624.8"/><path stroke="#ef5350" d="M401.0 618.0V622.1M401.4 620.8V626.5"/><path stroke="#26a69a" d="M401.9 619.5V625.2M402.4 618.1V620.3M402.8 615.5V620.6"/><path stroke="#ef5350" d="M403.2 616.7V619.9"/><path stroke="#26a69a" d="M403.7 617.7V620.0M404.2 615.6V620.7M404.6 613.9V617.3"/><path stroke="#ef5350" d="M405.1 613.8V615.5"/><path stroke="#26a69a" d="M405.5 612.5V615.1"/><path stroke="#ef5350" d="M405.9 611.7V618.8"/><path stroke="#26a69a" d="M406.4 609.1V615.4"/><path stroke="#ef5350" d="M406.9 612.7V615.4M407.3 613.3V620.6M407.8 618.3V621.5M408.2 620.0V626.0M408.7 624.7V627.4"/><path stroke="#26a69a" d="M409.1 624.2V627.1M409.6 619.1V624.3M410.0 618.4V622.5"/><path stroke="#ef5350" d="M410.4 619.6V623.8"/><path stroke="#26a69a" d="M410.9 618.0V624.0"/><path stroke="#ef5350" d="M411.4 617.9V621.4"/><path stroke="#26a69a" d="M411.8 617.2V620.8"/><path stroke="#ef5350" d="M412.2 617.7V620.0M412.7 616.3V621.6"/><path stroke="#26a69a" d="M413.2 616.4V623.3M413.6 616.5V620.1"/><path stroke="#ef5350" d="M414.1 616.1V622.9"/><path stroke="#26a69a" d="M414.5 621.8V623.4"/><path stroke="#ef5350" d="M414.9 621.3V624.4"/><path stroke="#26a69a" d="M415.4 621.6V625.2"/><path stroke="#ef5350" d="M415.9 623.0V624.9M416.3 623.1V628.5M416.8 625.8V630.9"/><path stroke="#26a69a" d="M417.2 625.8V628.5"/><path stroke="#ef5350" d="M417.7 626.8V629.7M418.1 625.9V631.4"/><path stroke="#26a69a" d="M418.6 628.4V631.2M419.0 628.6V633.0M419.4 624.4V630.0M419.9 622.1V626.7"/><path stroke="#ef5350" d="M420.4 620.5V627.0M420.8 626.0V628.3M421.2 627.0V629.0M421.7 627.8V633.8"/><path stroke="#26a69a" d="M422.2 628.3V631.5M422.6 627.7V631.8"/><path stroke="#ef5350" d="M423.1 628.0V632.8"/><path stroke="#26a69a" d="M423.5 630.9V633.5"/><path stroke="#ef5350" d="M423.9 630.9V634.5"/><path stroke="#26a69a" d="M424.4 631.1V634.7"/><path stroke="#ef5350" d="M424.9 633.3V636.4"/><path stroke="#26a69a" d="M425.3 630.2V635.0M425.8 630.3V634.8M426.2 625.3V632.1"/><path stroke="#ef5350" d="M426.7 625.2V626.9"/><path stroke="#26a69a" d="M427.1 623.0V629.0"/><path stroke="#ef5350" d="M427.6 621.6V630.9M428.0 626.0V631.0M428.4 628.2V632.2"/><path stroke="#26a69a" d="M428.9 630.2V632.0"/><path stroke="#ef5350" d="M429.4 627.8V633.1M429.8 630.0V633.2M430.2 630.5V636.1"/><path stroke="#26a69a" d="M430.7 627.5V635.9M431.2 625.9V629.5M431.6 619.9V629.7"/><path stroke="#ef5350" d="M432.1 619.6V622.4M432.5 619.7V622.1"/><path stroke="#26a69a" d="M432.9 621.3V622.2M433.4 619.9V621.8M433.9 618.6V621.2M434.3 618.5V621.6"/><path stroke="#ef5350" d="M434.8 618.5V622.5M435.2 620.8V625.9M435.7 620.6V626.0M436.1 621.9V626.0"/><path stroke="#26a69a" d="M436.6 622.5V626.1"/><path stroke="#ef5350" d="M437.0 624.5V630.0M437.4 629.0V633.5"/><path stroke="#26a69a" d="M437.9 627.4V631.6"/><path stroke="#ef5350" d="M438.4 627.4V630.4M438.8 628.9V633.1"/><path stroke="#26a69a" d="M439.2 630.4V633.0"/><path stroke="#ef5350" d="M439.7 627.2V635.0"/><path stroke="#26a69a" d="M440.2 631.1V634.4M440.6 627.9V632.7M441.1 625.6V629.1M441.5 624.3V627.9M441.9 621.5V628.0"/><path stroke="#ef5350" d="M442.4 620.5V622.6"/><path stroke="#26a69a" d="M442.9 618.7V623.3M443.3 617.6V619.8"/><path stroke="#ef5350" d="M443.8 619.3V621.5"/><path stroke="#26a69a" d="M444.2 619.7V621.8M444.7 617.7V621.8M445.1 618.1V619.9"/><path stroke="#ef5350" d="M445.6 616.4V622.2M446.0 620.3V624.6M446.4 623.3V627.3M446.9 624.7V628.0M447.4 627.2V630.0M447.8 628.8V634.2"/><path stroke="#26a69a" d="M448.2 630.4V633.4M448.7 626.8V631.0M449.2 624.7V627.7"/><path stroke="#ef5350" d="M449.6 626.2V630.6"/><path stroke="#26a69a" d="M450.1 624.6V630.6M450.5 623.3V625.3M450.9 621.9V624.2M451.4 619.7V624.7"/><path stroke="#ef5350" d="M451.9 618.6V623.9"/><path stroke="#26a69a" d="M452.3 617.1V623.4"/><path stroke="#ef5350" d="M452.8 617.4V621.6"/><path stroke="#26a69a" d="M453.2 615.3V622.7M453.7 613.0V620.1"/><path stroke="#ef5350" d="M454.1 615.5V619.4"/><path stroke="#26a69a" d="M454.6 614.0V620.5"/><path stroke="#ef5350" d="M455.0 612.7V620.1M455.4 615.6V620.6"/><path stroke="#26a69a" d="M455.9 616.3V619.4M456.4 615.3V617.6"/><path stroke="#ef5350" d="M456.8 615.5V621.5"/><path stroke="#26a69a" d="M457.2 611.4V619.2M457.7 612.8V617.4M458.2 613.0V616.0"/><path stroke="#ef5350" d="M458.6 611.1V615.7"/><path stroke="#26a69a" d="M459.1 609.1V616.7M459.5 607.0V611.4M459.9 603.9V608.3M460.4 594.5V608.4M460.9 596.5V598.5M461.3 591.3V598.0M461.8 586.8V592.7"/><path stroke="#ef5350" d="M462.2 587.3V592.7"/><path stroke="#26a69a" d="M462.7 587.4V593.5"/><path stroke="#ef5350" d="M463.1 588.6V590.5"/><path stroke="#26a69a" d="M463.6 584.3V589.6M464.0 584.3V585.7M464.4 581.8V587.4M464.9 579.1V584.7"/><path stroke="#ef5350" d="M465.4 578.4V581.4M465.8 580.0V582.8M466.2 579.4V584.6"/><path stroke="#26a69a" d="M466.7 581.0V584.3"/><path stroke="#ef5350" d="M467.2 580.9V583.5"/><path stroke="#26a69a" d="M467.6 579.8V583.9M468.1 578.3V584.6M468.5 576.3V582.9"/><path stroke="#ef5350" d="M468.9 575.9V579.6"/><path stroke="#26a69a" d="M469.4 575.8V580.3M469.9 574.8V578.3M470.3 574.1V575.3"/><path stroke="#ef5350" d="M470.8 572.1V581.5M471.2 575.9V578.8"/><path stroke="#26a69a" d="M471.7 576.3V581.6"/><path stroke="#ef5350" d="M472.1 576.3V578.0"/><path stroke="#26a69a" d="M472.6 574.8V578.6M473.0 573.9V576.3M473.4 572.5V575.4M473.9 572.5V573.8M474.4 571.0V577.6M474.8 568.3V572.6M475.2 564.3V571.1"/><path stroke="#ef5350" d="M475.7 564.8V569.6M476.2 567.1V571.2"/><path stroke="#26a69a" d="M476.6 565.2V570.5M477.1 564.2V566.6M477.5 558.8V565.1"/><path stroke="#ef5350" d="M477.9 560.3V565.8"/><path stroke="#26a69a" d="M478.4 550.0V565.1M478.9 551.8V554.3M479.3 542.0V553.4"/><path stroke="#ef5350" d="M479.8 542.0V545.8M480.2 542.9V546.6"/><path stroke="#26a69a" d="M480.7 542.4V547.8M481.1 541.1V543.2"/><path stroke="#ef5350" d="M481.6 541.1V544.9"/><path stroke="#26a69a" d="M482.0 544.0V545.8M482.4 543.3V546.0M482.9 541.5V544.1M483.4 540.6V543.1M483.8 538.7V541.7"/><path stroke="#ef5350" d="M484.2 538.0V540.1"/><path stroke="#26a69a" d="M484.7 534.9V540.4M485.2 534.4V539.9M485.6 530.3V535.1"/><path stroke="#ef5350" d="M486.1 530.6V534.1"/><path stroke="#26a69a" d="M486.5 525.7V531.7"/><path stroke="#ef5350" d="M486.9 525.5V530.5"/><path stroke="#26a69a" d="M487.4 521.0V531.6"/><path stroke="#ef5350" d="M487.9 521.6V526.0"/><path stroke="#26a69a" d="M488.3 520.2V523.9"/><path stroke="#ef5350" d="M488.8 520.4V524.6"/><path stroke="#26a69a" d="M489.2 516.8V524.6M489.7 507.4V519.3M489.7 483.0V512.5M490.1 504.6V512.0"/><path stroke="#ef5350" d="M490.6 504.4V509.1"/><path stroke="#26a69a" d="M491.0 504.2V509.3M491.4 503.0V506.8"/><path stroke="#ef5350" d="M491.9 504.3V507.0M492.4 504.9V510.0M492.8 504.2V518.5M493.2 513.2V524.3"/><path stroke="#26a69a" d="M493.7 522.0V525.9"/><path stroke="#ef5350" d="M494.2 520.4V528.1M494.6 526.7V529.3M495.0 529.5V537.0M495.1 521.9V535.4"/><path stroke="#26a69a" d="M495.5 531.3V535.9M495.9 531.0V532.5M496.4 526.4V531.9"/><path stroke="#ef5350" d="M496.9 529.3V533.6M497.3 531.0V533.7M497.8 532.8V536.5"/><path stroke="#26a69a" d="M498.2 529.7V537.3"/><path stroke="#ef5350" d="M498.7 529.4V532.5"/><path stroke="#26a69a" d="M499.1 524.8V533.6M499.6 524.1V530.2M500.0 520.2V524.8M500.4 514.0V521.4M500.9 513.2V517.3"/><path stroke="#ef5350" d="M501.4 513.0V522.3"/><path stroke="#26a69a" d="M501.8 515.6V523.3"/><path stroke="#ef5350" d="M502.2 514.6V517.5M502.7 516.1V520.9"/><path stroke="#26a69a" d="M503.2 512.8V521.8"/><path stroke="#ef5350" d="M503.6 513.4V518.5"/><path stroke="#26a69a" d="M504.1 515.8V517.6M504.5 514.0V517.5M504.9 510.4V518.9M505.4 510.8V515.6M505.9 507.5V511.8M506.3 507.9V509.5M506.8 503.0V508.5M507.2 501.1V506.1"/><path stroke="#ef5350" d="M507.7 500.7V502.7"/><path stroke="#26a69a" d="M508.1 498.9V507.4"/><path stroke="#ef5350" d="M508.6 499.0V504.1"/><path stroke="#26a69a" d="M509.0 499.0V506.9"/><path stroke="#ef5350" d="M509.4 498.9V506.3M509.9 501.4V505.4"/><path stroke="#26a69a" d="M510.4 500.7V505.0M510.8 498.1V503.8M511.2 498.7V506.4M511.7 497.0V503.0"/><path stroke="#ef5350" d="M512.2 495.9V501.5"/><path stroke="#26a69a" d="M512.6 497.9V503.0M513.0 494.3V499.8"/><path stroke="#ef5350" d="M513.5 496.7V502.7"/><path stroke="#26a69a" d="M514.0 491.8V501.5M514.4 489.6V496.0M514.9 486.5V491.7M515.3 485.3V490.3M515.8 485.5V492.1M516.2 481.0V485.9M516.7 478.2V482.5M517.1 474.5V482.7M517.5 475.3V478.3M518.0 470.6V477.7"/><path stroke="#ef5350" d="M518.5 471.7V479.2"/><path stroke="#26a69a" d="M518.9 474.7V478.7"/><path stroke="#ef5350" d="M519.4 475.6V476.7"/><path stroke="#26a69a" d="M519.8 473.8V477.7M520.2 470.3V477.8M520.7 466.9V477.1M521.2 467.9V472.0M521.6 465.6V469.1"/><path stroke="#ef5350" d="M522.1 465.3V469.0M522.5 466.1V469.2M523.0 466.8V471.8M523.4 466.8V475.2M523.9 471.0V475.3"/><path stroke="#26a69a" d="M524.3 469.0V474.1M524.8 468.7V473.5M525.2 466.0V470.6M525.6 463.4V467.4M526.1 463.6V467.5"/><path stroke="#ef5350" d="M526.6 461.6V467.5"/><path stroke="#26a69a" d="M527.0 459.8V465.8M527.5 461.3V465.0M527.9 458.0V463.3"/><path stroke="#ef5350" d="M528.4 457.2V466.0"/><path stroke="#26a69a" d="M528.8 457.7V466.4M529.2 457.4V462.0"/><path stroke="#ef5350" d="M529.7 456.0V461.5"/><path stroke="#26a69a" d="M530.1 454.5V462.3"/><path stroke="#ef5350" d="M530.6 453.1V461.6"/><path stroke="#26a69a" d="M531.1 456.7V460.1M531.5 454.1V458.7M532.0 449.9V455.9M532.4 438.1V451.9M532.9 432.2V439.2M533.3 426.0V439.3M533.8 428.1V433.2"/><path stroke="#ef5350" d="M534.2 426.7V431.6"/><path stroke="#26a69a" d="M534.6 427.1V433.7"/><path stroke="#ef5350" d="M535.1 428.3V436.3M535.6 434.1V441.0M536.0 437.4V448.4"/><path stroke="#26a69a" d="M536.5 441.4V445.6M536.9 439.8V443.9M537.4 437.3V442.3M537.8 436.3V439.4"/><path stroke="#ef5350" d="M538.2 436.1V439.9"/><path stroke="#26a69a" d="M538.7 433.1V439.2M539.1 428.9V434.6"/><path stroke="#ef5350" d="M539.6 426.5V432.7M540.1 431.7V439.4"/><path stroke="#26a69a" d="M540.5 435.7V439.3M541.0 433.7V438.3M541.4 430.3V437.7"/><path stroke="#ef5350" d="M541.9 430.5V433.1"/><path stroke="#26a69a" d="M542.3 431.8V433.7"/><path stroke="#ef5350" d="M542.8 431.2V434.3M543.2 432.6V434.4M543.6 432.7V436.7M544.1 434.4V438.9M544.6 433.7V443.2M545.0 440.9V446.8"/><path stroke="#26a69a" d="M545.5 439.3V445.5"/><path stroke="#ef5350" d="M545.9 440.0V442.8M546.4 439.8V448.1M546.8 442.3V448.7"/><path stroke="#26a69a" d="M547.2 445.3V449.5"/><path stroke="#ef5350" d="M547.7 446.3V451.0M548.1 449.1V450.7"/><path stroke="#26a69a" d="M548.6 446.5V451.5M549.1 442.7V447.6M549.5 435.0V446.6M550.0 437.9V443.2M550.4 429.4V440.2M550.9 424.5V434.1M551.3 414.0V431.1M551.8 404.3V418.1M552.2 394.6V406.2"/><path stroke="#ef5350" d="M552.6 394.3V403.0M553.1 399.2V401.5M553.6 398.8V407.1M554.0 400.9V407.0M554.5 404.9V408.5M554.9 408.2V413.4"/><path stroke="#26a69a" d="M555.4 407.9V414.5"/><path stroke="#ef5350" d="M555.8 406.8V410.6"/><path stroke="#26a69a" d="M556.2 408.4V410.6"/><path stroke="#ef5350" d="M556.7 408.5V411.6"/><path stroke="#26a69a" d="M557.1 406.2V417.5"/><path stroke="#ef5350" d="M557.6 407.9V410.8"/><path stroke="#26a69a" d="M558.1 406.7V410.5"/><path stroke="#ef5350" d="M558.5 404.2V411.0M559.0 406.5V411.6"/><path stroke="#26a69a" d="M559.4 409.1V413.9"/><path stroke="#ef5350" d="M559.9 409.2V413.7M560.3 408.7V411.6M560.8 411.1V412.7"/><path stroke="#26a69a" d="M561.2 408.7V412.5"/><path stroke="#ef5350" d="M561.6 410.1V412.5"/><path stroke="#26a69a" d="M562.1 408.7V413.2M562.6 402.6V411.2"/><path stroke="#ef5350" d="M563.0 406.9V413.8M563.5 409.6V428.3"/><path stroke="#26a69a" d="M563.9 422.4V427.0"/><path stroke="#ef5350" d="M564.4 419.9V425.7"/><path stroke="#26a69a" d="M564.8 413.8V425.9M565.2 414.2V416.8M565.7 409.9V417.8M566.1 404.2V414.1M566.6 404.1V406.5M567.1 398.9V406.7"/><path stroke="#ef5350" d="M567.5 396.4V405.6M568.0 398.7V404.7M568.4 402.8V410.2"/><path stroke="#26a69a" d="M568.9 403.9V408.1M569.3 396.2V409.9M569.8 397.2V400.1"/><path stroke="#ef5350" d="M570.2 396.5V402.2"/><path stroke="#26a69a" d="M570.6 397.2V401.8"/><path stroke="#ef5350" d="M571.1 396.1V405.2"/><path stroke="#26a69a" d="M571.6 399.8V404.1"/><path stroke="#ef5350" d="M572.0 398.8V402.2M572.5 400.1V403.3M572.9 396.1V408.3M573.4 405.3V410.9"/><path stroke="#26a69a" d="M573.8 404.3V413.0"/><path stroke="#ef5350" d="M574.2 404.7V408.8"/><path stroke="#26a69a" d="M574.7 406.6V410.2"/><path stroke="#ef5350" d="M575.1 403.5V407.4"/><path stroke="#26a69a" d="M575.6 403.8V407.6"/><path stroke="#ef5350" d="M576.1 403.5V407.2M576.5 401.7V415.2"/><path stroke="#26a69a" d="M577.0 406.3V414.9"/><path stroke="#ef5350" d="M577.4 409.7V419.0M577.9 416.8V426.0M578.3 422.7V427.0M578.8 424.8V439.7"/><path stroke="#26a69a" d="M579.2 431.7V440.3"/><path stroke="#ef5350" d="M579.6 430.5V434.4"/><path stroke="#26a69a" d="M580.1 426.9V436.2M580.6 424.1V430.0M581.0 424.4V430.5"/><path stroke="#ef5350" d="M581.5 425.9V426.8"/><path stroke="#26a69a" d="M581.9 422.1V433.4"/><path stroke="#ef5350" d="M582.4 416.6V424.4"/><path stroke="#26a69a" d="M582.8 418.0V424.3"/><path stroke="#ef5350" d="M583.2 417.5V423.4"/><path stroke="#26a69a" d="M583.7 418.1V424.0M584.1 416.0V424.1M584.6 415.0V418.2"/><path stroke="#ef5350" d="M585.1 415.9V418.1M585.5 415.9V421.5M586.0 418.9V422.4M586.4 416.7V424.4"/><path stroke="#26a69a" d="M586.9 420.6V423.5M587.3 414.8V423.4M587.8 412.2V417.1"/><path stroke="#ef5350" d="M588.2 414.2V420.0M588.6 418.6V422.2M589.1 416.7V426.3M589.6 423.4V426.4M590.0 423.1V435.3"/><path stroke="#26a69a" d="M590.5 425.3V434.0"/><path stroke="#ef5350" d="M590.9 424.8V438.7M591.4 431.7V440.4"/><path stroke="#26a69a" d="M591.8 437.6V440.6"/><path stroke="#ef5350" d="M592.2 439.7V443.5M592.7 439.9V452.0"/><path stroke="#26a69a" d="M593.1 439.3V450.0M593.6 433.8V440.9M594.1 435.8V438.3"/><path stroke="#ef5350" d="M594.5 434.7V440.9M595.0 436.9V443.8"/><path stroke="#26a69a" d="M595.4 439.1V444.6"/><path stroke="#ef5350" d="M595.9 438.1V447.2"/><path stroke="#26a69a" d="M596.3 439.6V446.8"/><path stroke="#ef5350" d="M596.8 442.6V443.1M597.2 439.8V445.5M597.6 436.1V450.0M598.1 443.8V448.5M598.6 446.4V448.8M599.0 446.2V454.7M599.5 453.1V461.4M599.9 455.6V458.6"/><path stroke="#26a69a" d="M600.4 453.3V461.5"/><path stroke="#ef5350" d="M600.5 453.4V464.0M600.8 452.9V454.6M601.2 453.1V457.3M601.7 455.1V457.6M602.1 455.0V457.2"/><path stroke="#26a69a" d="M602.6 454.1V458.6"/><path stroke="#ef5350" d="M603.1 452.3V457.5"/><path stroke="#26a69a" d="M603.5 449.3V456.1"/><path stroke="#ef5350" d="M604.0 448.7V453.6"/><path stroke="#26a69a" d="M604.4 448.1V456.4"/><path stroke="#ef5350" d="M604.9 445.9V450.7M605.3 447.1V450.9M605.8 448.0V453.0M606.2 451.8V454.4"/><path stroke="#26a69a" d="M606.6 450.3V455.0"/><path stroke="#ef5350" d="M607.1 451.4V461.7M607.6 454.2V456.0M608.0 455.6V458.4"/><path stroke="#26a69a" d="M608.5 454.8V458.3"/><path stroke="#ef5350" d="M608.9 454.0V458.3"/><path stroke="#26a69a" d="M609.4 451.1V456.3M609.8 447.9V455.5M610.2 446.2V449.7M610.7 443.3V449.5"/><path stroke="#ef5350" d="M611.1 444.2V446.8"/><path stroke="#26a69a" d="M611.6 438.1V446.3M612.1 439.2V442.9M612.5 435.5V441.2"/><path stroke="#ef5350" d="M613.0 436.6V441.2M613.4 436.5V442.5"/><path stroke="#26a69a" d="M613.9 433.7V442.8"/><path stroke="#ef5350" d="M614.3 433.8V436.9"/><path stroke="#26a69a" d="M614.8 430.6V437.9M615.2 425.6V431.5M615.6 420.4V429.8M616.1 409.6V422.9M616.6 413.8V417.8"/><path stroke="#ef5350" d="M617.0 414.3V415.8"/><path stroke="#26a69a" d="M617.5 405.0V416.7"/><path stroke="#ef5350" d="M617.9 407.7V410.5M618.4 408.6V412.7M618.8 409.4V413.5"/><path stroke="#26a69a" d="M619.2 406.0V412.8M619.7 408.3V409.9"/><path stroke="#ef5350" d="M620.1 409.0V410.9M620.6 408.4V411.8"/><path stroke="#26a69a" d="M621.1 404.9V412.5M621.5 403.3V409.8M622.0 402.4V410.4M622.4 400.4V405.7M622.9 393.3V403.6M623.3 393.7V399.1M623.8 388.2V395.1M624.2 382.5V391.4M624.6 384.2V390.4M625.1 383.7V389.3M625.6 379.7V383.9M626.0 373.0V383.3M626.5 371.9V374.7M626.9 365.1V374.6"/><path stroke="#ef5350" d="M627.4 363.6V371.0"/><path stroke="#26a69a" d="M627.8 366.7V371.5M628.2 359.2V370.0M628.7 360.1V364.0M629.1 352.7V363.0M629.6 347.1V357.2"/><path stroke="#ef5350" d="M630.1 347.7V353.6"/><path stroke="#26a69a" d="M630.5 344.7V352.7"/><path stroke="#ef5350" d="M631.0 346.6V352.1M631.4 347.9V355.1"/><path stroke="#26a69a" d="M631.9 350.4V353.8"/><path stroke="#ef5350" d="M632.3 351.1V359.6"/><path stroke="#26a69a" d="M632.8 350.9V358.7"/><path stroke="#ef5350" d="M633.2 352.0V356.0"/><path stroke="#26a69a" d="M633.6 351.7V358.1M634.1 350.6V354.1M634.6 347.2V357.0M635.0 346.1V347.8M635.5 342.7V348.0M635.9 341.5V345.5"/><path stroke="#ef5350" d="M636.4 343.9V345.7"/><path stroke="#26a69a" d="M636.8 341.0V346.4"/><path stroke="#ef5350" d="M637.2 338.5V345.7M637.7 343.0V353.5M638.1 347.5V356.5"/><path stroke="#26a69a" d="M638.6 350.1V355.2M639.1 347.4V352.4M639.5 343.4V349.9M640.0 340.1V346.1M640.4 341.0V345.2M640.9 339.0V347.9M641.3 336.7V341.0"/><path stroke="#ef5350" d="M641.8 336.5V338.8"/><path stroke="#26a69a" d="M642.2 334.9V339.4"/><path stroke="#ef5350" d="M642.6 334.4V340.4M643.1 339.2V349.3M643.6 345.6V355.7M644.0 350.0V355.5M644.5 352.1V357.0"/><path stroke="#26a69a" d="M644.9 353.2V364.3"/><path stroke="#ef5350" d="M645.4 351.5V362.2M645.8 353.5V374.2M646.0 375.9V389.0M646.2 371.9V376.4"/><path stroke="#26a69a" d="M646.7 363.1V377.3M647.1 355.6V368.3M647.6 352.9V359.2M648.1 347.6V353.4M648.5 341.9V355.7M649.0 340.1V344.8M649.4 334.6V341.2M649.9 329.7V337.2M650.3 327.5V335.3"/><path stroke="#ef5350" d="M650.8 328.9V337.7M651.2 335.4V341.6M651.6 335.0V341.8"/><path stroke="#26a69a" d="M652.1 331.9V343.0M652.6 332.7V337.1M653.0 331.0V335.6M653.5 323.9V333.3M653.9 316.4V326.2"/><path stroke="#ef5350" d="M654.4 316.9V324.3"/><path stroke="#26a69a" d="M654.8 310.4V320.1"/><path stroke="#ef5350" d="M655.2 314.1V320.6M655.7 316.9V326.3"/><path stroke="#26a69a" d="M656.1 321.1V325.9"/><path stroke="#ef5350" d="M656.6 321.3V327.5M657.1 324.9V331.2"/><path stroke="#26a69a" d="M657.5 323.8V330.0"/><path stroke="#ef5350" d="M658.0 325.0V329.5M658.4 326.8V336.8M658.9 333.7V337.3M659.3 334.4V341.2M659.8 339.0V343.2"/><path stroke="#26a69a" d="M660.2 339.5V343.4"/><path stroke="#ef5350" d="M660.6 340.3V341.9"/><path stroke="#26a69a" d="M661.1 335.6V342.4M661.6 334.7V340.4M662.0 336.3V340.1M662.5 335.6V338.8M662.9 333.2V339.9M663.4 329.4V337.5"/><path stroke="#ef5350" d="M663.8 331.7V336.7"/><path stroke="#26a69a" d="M664.2 326.8V336.3"/><path stroke="#ef5350" d="M664.7 330.0V339.3"/><path stroke="#26a69a" d="M665.1 330.7V338.4"/><path stroke="#ef5350" d="M665.6 331.4V333.8M666.1 331.9V338.5"/><path stroke="#26a69a" d="M666.5 329.2V336.3M667.0 324.3V331.9M667.4 318.3V325.4"/><path stroke="#ef5350" d="M667.9 319.7V323.9"/><path stroke="#26a69a" d="M668.3 319.9V326.5M668.8 318.7V321.3M669.2 316.9V323.9M669.6 312.6V320.1"/><path stroke="#ef5350" d="M670.1 314.1V314.9M670.6 313.6V316.6"/><path stroke="#26a69a" d="M671.0 310.1V316.2"/><path stroke="#ef5350" d="M671.5 311.6V326.1"/><path stroke="#26a69a" d="M671.9 319.1V325.8"/><path stroke="#ef5350" d="M672.4 316.6V326.1M672.8 322.8V330.2M673.2 326.3V333.5M673.7 328.7V332.1M674.1 329.6V333.5M674.6 331.1V337.4"/><path stroke="#26a69a" d="M675.1 328.6V337.5"/><path stroke="#ef5350" d="M675.5 329.8V343.6"/><path stroke="#26a69a" d="M676.0 335.8V341.4M676.4 333.4V337.5"/><path stroke="#ef5350" d="M676.9 332.4V335.9"/><path stroke="#26a69a" d="M677.3 333.3V335.0M677.8 326.4V335.8M678.2 329.5V333.5"/><path stroke="#ef5350" d="M678.6 327.0V331.8"/><path stroke="#26a69a" d="M679.1 323.4V335.8M679.6 322.0V327.4M680.0 322.5V326.6"/><path stroke="#ef5350" d="M680.5 319.7V330.2M680.9 324.5V328.0M681.4 322.4V333.0"/><path stroke="#26a69a" d="M681.8 327.8V333.1"/><path stroke="#ef5350" d="M682.2 329.6V339.0M682.7 334.8V336.9"/><path stroke="#26a69a" d="M683.1 330.9V338.4M683.6 328.1V338.0M684.1 327.9V332.3M684.5 326.0V329.2"/><path stroke="#ef5350" d="M685.0 325.2V335.7"/><path stroke="#26a69a" d="M685.4 329.9V334.1M685.9 320.2V333.7"/><path stroke="#ef5350" d="M686.3 321.7V329.4"/><path stroke="#26a69a" d="M686.8 323.5V330.5M687.2 316.1V327.5"/><path stroke="#ef5350" d="M687.6 318.6V325.6M688.1 323.5V332.5"/><path stroke="#26a69a" d="M688.6 320.7V325.9M689.0 313.2V324.9"/><path stroke="#ef5350" d="M689.5 313.1V318.7"/><path stroke="#26a69a" d="M689.9 309.4V318.2M690.4 305.7V312.0M690.8 301.4V308.5"/><path stroke="#ef5350" d="M691.2 303.1V305.2"/><path stroke="#26a69a" d="M691.7 302.1V305.0"/><path stroke="#ef5350" d="M692.1 302.1V314.0M692.6 302.8V312.5"/><path stroke="#26a69a" d="M693.1 305.6V310.0"/><path stroke="#ef5350" d="M693.5 304.4V311.9M694.0 310.3V314.1"/><path stroke="#26a69a" d="M694.4 308.1V315.2M694.9 305.1V315.7M695.3 305.7V311.9M695.8 306.3V308.5M696.2 301.9V308.7M696.6 300.1V303.3M697.1 300.2V302.8M697.6 292.8V308.2M698.0 288.0V294.7"/><path stroke="#ef5350" d="M698.5 285.3V292.0"/><path stroke="#26a69a" d="M698.9 285.0V293.4M699.4 276.9V287.3"/><path stroke="#ef5350" d="M699.8 278.3V282.0M700.2 279.9V283.5M700.7 280.9V286.5M701.1 284.9V288.5"/><path stroke="#26a69a" d="M701.6 279.2V287.3"/><path stroke="#ef5350" d="M702.1 276.4V291.8M702.5 284.8V293.7M703.0 289.5V293.0"/><path stroke="#26a69a" d="M703.4 288.0V292.9M703.9 287.7V290.6"/><path stroke="#ef5350" d="M704.3 285.9V293.3"/><path stroke="#26a69a" d="M704.8 290.5V292.7"/><path stroke="#ef5350" d="M705.2 289.8V296.1"/><path stroke="#26a69a" d="M705.6 286.8V296.0"/><path stroke="#ef5350" d="M706.1 290.6V300.7M706.6 296.1V298.1M707.0 292.3V298.3"/><path stroke="#26a69a" d="M707.5 294.2V298.6M707.9 292.8V299.4M708.4 290.2V296.0"/><path stroke="#ef5350" d="M708.8 288.7V298.2"/><path stroke="#26a69a" d="M709.2 289.6V297.4"/><path stroke="#ef5350" d="M709.7 289.8V298.9M710.1 292.7V298.6"/><path stroke="#26a69a" d="M710.6 291.5V298.0M711.1 289.5V293.9"/><path stroke="#ef5350" d="M711.5 289.2V296.6"/><path stroke="#26a69a" d="M712.0 288.7V294.7M712.4 286.3V293.2"/><path stroke="#ef5350" d="M712.9 280.3V295.1M713.3 289.5V296.8M713.8 290.5V299.9M714.2 298.4V306.9M714.6 298.3V309.2M715.1 306.8V313.4"/><path stroke="#26a69a" d="M715.6 307.9V318.2"/><path stroke="#ef5350" d="M716.0 310.8V320.8M716.5 315.6V322.9"/><path stroke="#26a69a" d="M716.9 313.0V324.9"/><path stroke="#ef5350" d="M717.4 319.8V321.7M717.8 312.3V321.3"/><path stroke="#26a69a" d="M718.2 318.2V324.3M718.7 316.8V321.1"/><path stroke="#ef5350" d="M719.1 316.0V317.5"/><path stroke="#26a69a" d="M719.6 314.4V319.8M720.1 310.2V318.0M720.5 311.8V313.1M721.0 310.2V312.4"/><path stroke="#ef5350" d="M721.4 311.5V316.8M721.9 312.9V317.1"/><path stroke="#26a69a" d="M722.3 310.1V316.2"/><path stroke="#ef5350" d="M722.8 311.6V316.1"/><path stroke="#26a69a" d="M723.2 314.3V319.5M723.6 305.7V315.4"/><path stroke="#ef5350" d="M724.1 311.2V315.3M724.6 314.4V317.9M725.0 313.5V326.9M725.5 318.0V334.4"/><path stroke="#26a69a" d="M725.9 327.9V336.9"/><path stroke="#ef5350" d="M726.4 324.1V341.5M726.8 338.3V342.1M727.2 333.9V346.5M727.7 344.0V347.5M728.1 345.1V353.1M728.6 348.7V352.2M729.1 348.9V358.8M729.5 357.6V361.9M730.0 360.0V370.6M730.4 369.1V375.7"/><path stroke="#26a69a" d="M730.9 368.4V374.8"/><path stroke="#ef5350" d="M731.3 368.7V378.7M731.8 376.6V380.0M732.2 377.1V388.3M732.6 384.4V394.6M733.1 391.0V399.4M733.6 394.9V403.7M733.6 398.6V403.8"/><path stroke="#26a69a" d="M734.0 392.0V404.1M734.5 391.3V393.5M734.9 385.3V392.6M735.4 372.5V387.1M735.8 369.4V375.8M736.2 366.3V373.2M736.7 361.0V367.8M737.1 354.6V362.4"/><path stroke="#ef5350" d="M737.6 356.7V362.0"/><path stroke="#26a69a" d="M738.1 354.5V361.9M738.5 350.1V355.6"/><path stroke="#ef5350" d="M739.0 353.1V363.4"/><path stroke="#26a69a" d="M739.4 358.6V360.3M739.9 354.4V359.9"/><path stroke="#ef5350" d="M740.3 358.0V366.4"/><path stroke="#26a69a" d="M740.8 359.6V364.4"/><path stroke="#ef5350" d="M741.2 358.7V365.4M741.6 363.9V368.4"/><path stroke="#26a69a" d="M742.1 350.6V369.2M742.6 344.0V353.8M743.0 331.7V351.7"/><path stroke="#ef5350" d="M743.5 333.7V339.2M743.9 336.5V339.3"/><path stroke="#26a69a" d="M744.4 333.4V340.8"/><path stroke="#ef5350" d="M744.8 333.8V339.2M745.2 335.9V347.0M745.7 339.0V346.2"/><path stroke="#26a69a" d="M746.1 340.7V345.9M746.6 339.0V344.9"/><path stroke="#ef5350" d="M747.1 337.5V342.1"/><path stroke="#26a69a" d="M747.5 336.4V343.5M748.0 332.5V340.2"/><path stroke="#ef5350" d="M748.4 333.8V339.9M748.9 337.7V346.4"/><path stroke="#26a69a" d="M749.3 335.3V345.8"/><path stroke="#ef5350" d="M749.8 335.7V348.5M750.2 344.4V356.5M750.6 350.3V358.8M751.1 355.6V365.3M751.6 364.0V373.2M752.0 364.0V370.9M752.5 370.2V376.7"/><path stroke="#26a69a" d="M752.9 372.6V375.1M753.4 366.5V375.5"/><path stroke="#ef5350" d="M753.8 369.4V373.4"/><path stroke="#26a69a" d="M754.2 367.1V377.1M754.7 361.1V370.5M755.1 356.3V369.2"/><path stroke="#ef5350" d="M755.6 361.1V369.3"/><path stroke="#26a69a" d="M756.1 360.7V365.1M756.5 358.7V362.2"/><path stroke="#ef5350" d="M757.0 355.3V364.8M757.4 362.4V369.8"/><path stroke="#26a69a" d="M757.9 366.1V369.9M758.3 359.1V368.8M758.8 359.5V363.5"/><path stroke="#ef5350" d="M759.2 359.0V370.8"/><path stroke="#26a69a" d="M759.6 362.1V370.9M760.1 358.8V367.2M760.6 356.2V362.0"/><path stroke="#ef5350" d="M761.0 354.2V360.8"/><path stroke="#26a69a" d="M761.5 349.0V358.6M761.9 346.7V352.8M762.4 345.1V348.1M762.8 340.6V348.5"/><path stroke="#ef5350" d="M763.2 341.9V344.7"/><path stroke="#26a69a" d="M763.7 339.8V343.7M764.1 334.0V345.2M764.6 332.1V338.5M765.1 333.3V338.2M765.5 330.5V336.2"/><path stroke="#ef5350" d="M766.0 331.2V334.0"/><path stroke="#26a69a" d="M766.4 328.3V333.8M766.9 326.9V333.8M767.3 321.9V331.1M767.8 313.3V322.9"/><path stroke="#ef5350" d="M768.2 316.5V323.0"/><path stroke="#26a69a" d="M768.6 314.7V322.2M769.1 313.4V320.1M769.6 305.9V315.9M770.0 306.2V312.8"/><path stroke="#ef5350" d="M770.5 301.9V315.3"/><path stroke="#26a69a" d="M770.9 306.9V316.1M771.4 305.7V310.1M771.8 299.9V307.0"/><path stroke="#ef5350" d="M772.2 299.8V309.1"/><path stroke="#26a69a" d="M772.7 304.4V309.5M773.1 300.7V305.3"/><path stroke="#ef5350" d="M773.6 300.7V312.5M774.1 299.9V309.7M774.5 306.1V313.4"/><path stroke="#26a69a" d="M775.0 307.2V313.1"/><path stroke="#ef5350" d="M775.4 303.6V316.2"/><path stroke="#26a69a" d="M775.9 310.7V314.4"/><path stroke="#ef5350" d="M776.3 312.9V315.4"/><path stroke="#26a69a" d="M776.8 312.9V317.1"/><path stroke="#ef5350" d="M777.2 310.8V317.3"/><path stroke="#26a69a" d="M777.6 309.4V314.9"/><path stroke="#ef5350" d="M778.1 310.8V312.6M778.6 308.0V315.2"/><path stroke="#26a69a" d="M779.0 310.6V321.2M779.5 308.8V317.0"/><path stroke="#ef5350" d="M779.9 309.0V314.5M780.4 311.2V315.1"/><path stroke="#26a69a" d="M780.8 312.0V315.2"/><path stroke="#ef5350" d="M781.2 311.9V315.9"/><path stroke="#26a69a" d="M781.7 309.1V316.7"/><path stroke="#ef5350" d="M782.1 310.7V319.5"/><path stroke="#26a69a" d="M782.6 310.2V322.1M783.1 300.8V313.4M783.5 300.3V304.5M784.0 290.2V306.0M784.4 287.9V296.7M784.9 284.5V291.0"/><path stroke="#ef5350" d="M785.3 283.0V290.2"/><path stroke="#26a69a" d="M785.8 283.9V288.2M786.2 281.7V286.9"/><path stroke="#ef5350" d="M786.6 282.8V286.9M787.1 282.6V288.0"/><path stroke="#26a69a" d="M787.6 284.9V286.8"/><path stroke="#ef5350" d="M788.0 284.7V289.8M788.5 285.4V293.0"/><path stroke="#26a69a" d="M788.9 285.3V290.1M789.4 282.0V289.9M789.8 279.2V286.9M790.2 275.2V281.8M790.7 275.3V279.9M791.1 274.4V279.4M791.6 274.4V282.3"/><path stroke="#ef5350" d="M792.1 274.9V276.7"/><path stroke="#26a69a" d="M792.5 274.1V276.9M793.0 271.8V276.0M793.4 262.1V271.8M793.9 264.7V272.9"/><path stroke="#ef5350" d="M794.3 262.2V271.5M794.8 265.0V275.3"/><path stroke="#26a69a" d="M795.2 263.2V272.0M795.6 261.1V265.1M796.1 256.7V265.4M796.6 258.3V260.2M797.0 253.7V260.7M797.5 252.9V259.0"/><path stroke="#ef5350" d="M797.9 248.9V261.2"/><path stroke="#26a69a" d="M798.4 250.4V257.9"/><path stroke="#ef5350" d="M798.8 253.4V257.5"/><path stroke="#26a69a" d="M799.2 254.5V257.4M799.7 251.1V255.5M800.1 250.6V255.4M800.6 248.7V254.9M801.1 240.1V249.7M801.5 233.2V242.9M802.0 223.0V234.3M802.4 217.7V230.4M802.9 206.3V221.2M803.3 204.0V211.0M803.8 193.6V211.3"/><path stroke="#ef5350" d="M804.2 193.0V200.0M804.6 195.7V199.8M805.1 190.0V204.8"/><path stroke="#26a69a" d="M805.6 201.3V203.4"/><path stroke="#ef5350" d="M806.0 201.1V205.4M806.5 204.2V211.8M806.9 210.9V217.6M807.4 216.3V223.3M807.8 217.6V225.3"/><path stroke="#26a69a" d="M808.2 217.4V223.2"/><path stroke="#ef5350" d="M808.7 220.7V229.4M809.1 226.1V232.2M809.3 228.8V243.0"/><path stroke="#26a69a" d="M809.6 228.6V232.1"/><path stroke="#ef5350" d="M810.1 229.2V236.0"/><path stroke="#26a69a" d="M810.5 227.3V236.4"/><path stroke="#ef5350" d="M811.0 227.9V233.0"/><path stroke="#26a69a" d="M811.4 227.0V234.1M811.9 224.8V230.5"/><path stroke="#ef5350" d="M812.3 225.7V226.5"/><path stroke="#26a69a" d="M812.8 220.5V227.7M813.2 216.8V227.4M813.6 207.9V218.7M814.1 203.1V220.3M814.6 204.7V208.3"/><path stroke="#ef5350" d="M814.6 205.3V243.0"/><path stroke="#26a69a" d="M815.0 199.7V205.7M815.5 199.7V206.5"/><path stroke="#ef5350" d="M815.9 200.1V208.3"/><path stroke="#26a69a" d="M816.4 197.8V205.5M816.8 195.8V201.3"/><path stroke="#ef5350" d="M817.2 196.1V204.3M817.7 201.5V204.8M818.1 202.4V212.8M818.6 211.6V216.5M819.1 213.9V220.7"/><path stroke="#26a69a" d="M819.5 213.0V221.9"/><path stroke="#ef5350" d="M820.0 212.5V221.7M820.4 216.1V222.6M820.9 218.3V222.7"/><path stroke="#26a69a" d="M821.3 216.8V224.9M821.8 215.6V217.7M822.2 211.7V217.8M822.6 213.6V219.4M823.1 211.5V216.1"/><path stroke="#ef5350" d="M823.6 211.2V223.3"/><path stroke="#26a69a" d="M824.0 212.5V221.3"/><path stroke="#ef5350" d="M824.5 213.7V221.0M824.9 218.2V229.3"/><path stroke="#26a69a" d="M825.4 218.8V223.9M825.8 216.2V222.9"/><path stroke="#ef5350" d="M826.2 216.7V221.2"/><path stroke="#26a69a" d="M826.7 212.0V221.1"/><path stroke="#ef5350" d="M827.1 214.7V219.7"/><path stroke="#26a69a" d="M827.6 214.4V217.6"/><path stroke="#ef5350" d="M828.1 212.3V221.0"/><path stroke="#26a69a" d="M828.5 214.3V223.3M829.0 209.5V217.7M829.4 207.5V215.2"/><path stroke="#ef5350" d="M829.9 206.7V211.6"/><path stroke="#26a69a" d="M830.3 208.6V211.5M830.8 207.1V209.1"/><path stroke="#ef5350" d="M831.2 203.7V213.2"/><path stroke="#26a69a" d="M831.6 205.8V211.0M832.1 203.3V208.8"/><path stroke="#ef5350" d="M832.6 204.5V208.0"/><path stroke="#26a69a" d="M833.0 198.1V208.5M833.3 188.0V215.0"/><path stroke="#ef5350" d="M833.5 198.2V209.1M833.9 207.4V224.0M834.2 180.7V260.5M834.4 219.0V231.0M834.8 229.2V236.8"/><path stroke="#26a69a" d="M835.2 229.0V256.0"/><path stroke="#ef5350" d="M835.2 234.7V243.7"/><path stroke="#26a69a" d="M835.7 236.6V243.5M836.1 233.8V247.0M836.6 225.1V236.5"/><path stroke="#ef5350" d="M837.1 217.9V230.1"/><path stroke="#26a69a" d="M837.5 220.7V227.7M838.0 215.4V221.9M838.4 209.2V222.1"/><path stroke="#ef5350" d="M838.9 209.8V213.1"/><path stroke="#26a69a" d="M839.3 208.2V213.0M839.8 202.0V209.0"/><path stroke="#ef5350" d="M840.2 202.3V213.0"/><path stroke="#26a69a" d="M840.6 205.6V206.4M841.1 197.4V208.0"/><path stroke="#ef5350" d="M841.6 196.6V206.2M842.0 201.3V206.0"/><path stroke="#26a69a" d="M842.5 198.9V205.0M842.9 194.2V204.3"/><path stroke="#ef5350" d="M843.4 195.9V202.8M843.8 200.1V203.5"/><path stroke="#26a69a" d="M844.2 194.7V204.6"/><path stroke="#ef5350" d="M844.7 197.7V206.7"/><path stroke="#26a69a" d="M845.1 199.3V208.7M845.6 200.3V203.8"/><path stroke="#ef5350" d="M846.1 199.6V205.7"/><path stroke="#26a69a" d="M846.5 197.9V203.8"/><path stroke="#ef5350" d="M847.0 196.5V206.1"/><path stroke="#26a69a" d="M847.4 199.1V205.9"/><path stroke="#ef5350" d="M847.9 200.9V201.7"/><path stroke="#26a69a" d="M848.3 199.2V202.5"/><path stroke="#ef5350" d="M848.8 198.4V202.3M849.2 200.2V203.8"/><path stroke="#26a69a" d="M849.6 200.8V203.5M850.1 197.9V201.4"/><path stroke="#ef5350" d="M850.6 195.2V206.7"/><path stroke="#26a69a" d="M851.0 193.6V203.5"/><path stroke="#ef5350" d="M851.5 195.2V203.6"/><path stroke="#26a69a" d="M851.9 195.1V204.8M852.4 192.4V204.2M852.8 190.4V200.4"/><path stroke="#ef5350" d="M853.2 190.7V195.9M853.7 193.2V200.9"/><path stroke="#26a69a" d="M854.1 198.2V203.3"/><path stroke="#ef5350" d="M854.6 196.3V206.0"/><path stroke="#26a69a" d="M855.1 200.7V202.8"/><path stroke="#ef5350" d="M855.5 199.5V204.2M856.0 200.1V203.8"/><path stroke="#26a69a" d="M856.4 198.3V203.0"/><path stroke="#ef5350" d="M856.9 196.8V207.0"/><path stroke="#26a69a" d="M857.3 201.2V206.5M857.8 198.3V211.7"/><path stroke="#ef5350" d="M858.2 198.5V203.0"/><path stroke="#26a69a" d="M858.6 194.8V204.0"/><path stroke="#ef5350" d="M859.1 197.5V202.8"/><path stroke="#26a69a" d="M859.6 191.8V202.8"/><path stroke="#ef5350" d="M860.0 193.2V198.3"/><path stroke="#26a69a" d="M860.5 188.9V201.9"/><path stroke="#ef5350" d="M860.9 191.5V192.8M861.4 191.5V196.3"/><path stroke="#26a69a" d="M861.8 188.1V198.8"/><path stroke="#ef5350" d="M862.2 186.9V191.1"/><path stroke="#26a69a" d="M862.7 187.9V197.2M863.1 187.5V193.6M863.6 185.1V189.0"/><path stroke="#ef5350" d="M864.1 186.6V191.5"/><path stroke="#26a69a" d="M864.5 184.8V189.9M865.0 187.1V188.7"/><path stroke="#ef5350" d="M865.4 185.9V189.9"/><path stroke="#26a69a" d="M865.9 184.6V189.3M866.3 183.5V188.0M866.8 181.6V185.5"/><path stroke="#ef5350" d="M867.2 181.5V186.3"/><path stroke="#26a69a" d="M867.6 183.0V191.6"/><path stroke="#ef5350" d="M868.1 181.3V196.3"/><path stroke="#26a69a" d="M868.6 179.6V189.2M869.0 174.8V183.3"/><path stroke="#ef5350" d="M869.5 175.4V179.4"/><path stroke="#26a69a" d="M869.9 171.5V179.5M870.4 165.5V175.9"/><path stroke="#ef5350" d="M870.8 167.3V177.0"/><path stroke="#26a69a" d="M871.2 166.3V174.5"/><path stroke="#ef5350" d="M871.7 163.5V172.3"/><path stroke="#26a69a" d="M872.1 157.9V174.6"/><path stroke="#ef5350" d="M872.6 164.2V169.0"/><path stroke="#26a69a" d="M873.1 160.9V168.0M873.5 155.6V173.5"/><path stroke="#ef5350" d="M874.0 157.7V159.7"/><path stroke="#26a69a" d="M874.4 155.1V160.1"/><path stroke="#ef5350" d="M874.9 156.7V164.0M875.3 157.3V158.1M875.8 150.6V165.2"/><path stroke="#26a69a" d="M876.2 152.9V159.9M876.6 150.7V156.9"/><path stroke="#ef5350" d="M877.1 149.0V154.1"/><path stroke="#26a69a" d="M877.6 141.9V153.8M878.0 138.9V146.8M878.5 129.5V148.7M878.9 133.1V140.0"/><path stroke="#ef5350" d="M879.4 127.7V139.2M879.8 136.0V138.9M880.2 137.8V140.1M880.7 137.9V146.1"/><path stroke="#26a69a" d="M881.1 130.3V145.2M881.6 133.4V137.5"/><path stroke="#ef5350" d="M882.1 130.6V134.9"/><path stroke="#26a69a" d="M882.5 128.0V137.9"/><path stroke="#ef5350" d="M883.0 131.3V134.3"/><path stroke="#26a69a" d="M883.4 124.1V134.4M883.9 123.8V133.7"/><path stroke="#ef5350" d="M884.3 124.9V132.9"/><path stroke="#26a69a" d="M884.8 126.5V133.2M885.2 120.1V130.6"/><path stroke="#ef5350" d="M885.6 114.1V125.1M886.1 121.7V127.6"/><path stroke="#26a69a" d="M886.6 115.9V123.9"/><path stroke="#ef5350" d="M887.0 117.7V127.6"/><path stroke="#26a69a" d="M887.5 122.6V127.7M887.9 117.5V129.0M888.4 115.1V120.0"/><path stroke="#ef5350" d="M888.8 111.4V128.2"/><path stroke="#26a69a" d="M889.2 114.8V123.2M889.5 93.1V115.0M889.7 113.2V117.2"/><path stroke="#ef5350" d="M890.1 111.7V119.7M890.5 96.4V130.0M890.6 114.3V122.7M891.1 120.4V131.8M891.4 128.2V186.0M891.5 127.9V136.8"/><path stroke="#26a69a" d="M892.0 128.4V139.2M892.4 126.9V130.8"/><path stroke="#ef5350" d="M892.9 124.8V133.6M893.3 126.8V137.4M893.8 129.3V139.5"/><path stroke="#26a69a" d="M894.2 135.6V138.9"/><path stroke="#ef5350" d="M894.6 133.8V142.3"/><path stroke="#26a69a" d="M895.1 131.5V140.7"/><path stroke="#ef5350" d="M895.6 129.9V136.7M896.0 134.0V143.0M896.5 138.2V143.6M896.9 139.9V150.8M897.4 148.7V155.9"/><path stroke="#26a69a" d="M897.8 151.4V156.2"/><path stroke="#ef5350" d="M898.2 150.0V166.6"/><path stroke="#26a69a" d="M898.7 162.7V170.5"/><path stroke="#ef5350" d="M899.1 164.1V171.6M899.6 168.2V179.5"/><path stroke="#26a69a" d="M900.1 169.8V176.8M900.5 165.8V173.3"/><path stroke="#ef5350" d="M900.7 168.2V190.7"/><path stroke="#26a69a" d="M901.0 162.5V169.2"/><path stroke="#ef5350" d="M901.4 162.8V168.5M901.9 165.6V169.2"/><path stroke="#26a69a" d="M902.3 164.3V171.7M902.8 160.0V169.0"/><path stroke="#ef5350" d="M903.2 159.7V163.7"/><path stroke="#26a69a" d="M903.6 155.0V161.5"/><path stroke="#ef5350" d="M904.1 152.2V158.5"/><path stroke="#26a69a" d="M904.6 150.4V157.2"/><path stroke="#ef5350" d="M905.0 144.5V151.6"/><path stroke="#26a69a" d="M905.5 141.6V152.0"/><path stroke="#ef5350" d="M905.9 135.3V145.2"/><path stroke="#26a69a" d="M906.4 134.0V146.5"/><path stroke="#ef5350" d="M906.8 137.5V144.6"/><path stroke="#26a69a" d="M907.2 137.9V143.0"/><path stroke="#ef5350" d="M907.7 136.8V145.6M908.1 139.0V144.2M908.6 140.5V148.3M909.1 142.8V156.3M909.5 150.1V162.6M910.0 155.8V162.1M910.4 160.1V163.0M910.9 160.3V165.9M911.3 158.8V163.9"/><path stroke="#26a69a" d="M911.8 162.8V164.2M912.2 159.5V163.4"/><path stroke="#ef5350" d="M912.6 159.5V164.6"/><path stroke="#26a69a" d="M913.1 152.0V165.8"/><path stroke="#ef5350" d="M913.6 152.2V157.4"/><path stroke="#26a69a" d="M914.0 147.4V159.7"/><path stroke="#ef5350" d="M914.5 145.9V156.1"/><path stroke="#26a69a" d="M914.9 146.5V160.0"/><path stroke="#ef5350" d="M915.4 143.8V151.3M915.8 146.9V155.3"/><path stroke="#26a69a" d="M916.2 151.7V157.6M916.7 147.2V152.9M917.1 149.0V158.3"/><path stroke="#ef5350" d="M917.6 148.4V160.2M918.1 154.1V166.8"/><path stroke="#26a69a" d="M918.5 163.1V169.4"/><path stroke="#ef5350" d="M919.0 163.1V170.1M919.4 166.1V173.8"/><path stroke="#26a69a" d="M919.9 166.6V171.2M920.3 164.7V170.7"/><path stroke="#ef5350" d="M920.8 164.9V172.6M921.2 163.7V175.3"/><path stroke="#26a69a" d="M921.6 170.4V174.4"/><path stroke="#ef5350" d="M922.1 169.8V177.6M922.6 168.6V180.5"/><path stroke="#26a69a" d="M923.0 177.7V183.0M923.5 176.0V179.6"/><path stroke="#ef5350" d="M923.9 175.2V180.0M924.4 178.0V187.3"/><path stroke="#26a69a" d="M924.8 172.2V180.6M925.2 171.7V177.0M925.7 169.7V175.2"/><path stroke="#ef5350" d="M926.1 168.2V175.4M926.6 172.0V173.6M927.1 172.7V175.8M927.5 169.0V188.9M928.0 183.6V205.1M928.4 199.6V219.5M928.9 217.4V236.9M929.3 232.9V245.6M929.8 233.9V255.8M930.2 251.9V266.4M930.6 264.2V280.4"/><path stroke="#26a69a" d="M931.1 271.8V283.8M931.6 272.7V279.0M932.0 269.1V274.0M932.5 261.7V270.5"/><path stroke="#ef5350" d="M932.9 260.5V265.4M933.4 263.4V267.0M933.8 260.4V269.7"/><path stroke="#26a69a" d="M934.2 262.0V268.7"/><path stroke="#ef5350" d="M934.7 263.8V272.9M935.0 266.8V300.0M935.1 266.8V269.6"/><path stroke="#26a69a" d="M935.6 263.4V269.0"/><path stroke="#ef5350" d="M936.1 265.3V279.1"/><path stroke="#26a69a" d="M936.5 269.2V275.8M937.0 269.6V278.7"/><path stroke="#ef5350" d="M937.4 267.1V278.4M937.9 273.3V277.9M938.3 273.8V278.3"/><path stroke="#26a69a" d="M938.8 270.6V279.2M939.2 268.3V272.2"/><path stroke="#ef5350" d="M939.6 271.5V280.9"/><path stroke="#26a69a" d="M940.1 267.2V274.6M940.6 257.3V269.5"/><path stroke="#ef5350" d="M941.0 252.2V274.4"/><path stroke="#26a69a" d="M941.5 270.2V274.5M941.9 266.1V273.9M942.4 260.9V272.0M942.8 250.2V268.1M943.2 254.0V259.7M943.7 255.3V261.0M944.1 245.3V260.9M944.6 246.2V249.6"/><path stroke="#ef5350" d="M945.1 247.1V249.8M945.5 245.3V248.9"/><path stroke="#26a69a" d="M946.0 240.1V251.2M946.4 235.7V246.9M946.9 235.9V239.0"/><path stroke="#ef5350" d="M947.3 232.7V249.0"/><path stroke="#26a69a" d="M947.8 239.1V247.0"/><path stroke="#ef5350" d="M948.2 243.0V248.5"/><path stroke="#26a69a" d="M948.6 242.8V248.2M949.1 239.3V244.7"/><path stroke="#ef5350" d="M949.6 240.6V256.0M950.0 249.9V253.3M950.5 249.5V257.9"/><path stroke="#26a69a" d="M950.9 254.9V257.2"/><path stroke="#ef5350" d="M951.4 255.6V262.0M951.8 261.2V271.9M952.2 261.3V274.8M952.7 268.7V272.9M953.1 267.8V276.1M953.6 272.3V283.1M954.1 270.1V286.7M954.5 284.5V287.4"/><path stroke="#26a69a" d="M955.0 278.4V289.4"/><path stroke="#ef5350" d="M955.4 279.1V286.5"/><path stroke="#26a69a" d="M955.9 280.6V286.6M956.3 279.2V284.2M956.8 271.1V284.0"/><path stroke="#ef5350" d="M957.2 270.4V277.2M957.6 273.1V282.5"/><path stroke="#26a69a" d="M958.1 274.0V284.6"/><path stroke="#ef5350" d="M958.6 268.2V279.0M959.0 277.5V283.5M959.0 279.2V301.0"/><path stroke="#26a69a" d="M959.5 274.1V281.6"/><path stroke="#ef5350" d="M959.9 277.3V289.2M960.4 274.6V291.3M960.8 288.6V292.3M961.2 287.3V292.6"/><path stroke="#26a69a" d="M961.7 282.8V297.7M962.1 283.8V289.5M962.6 284.2V290.7M963.1 280.4V285.4M963.5 278.8V286.9"/><path stroke="#ef5350" d="M964.0 281.1V282.8M964.4 277.7V288.4M964.9 285.9V297.0M965.3 289.4V299.6M965.8 292.3V303.3M966.2 299.1V311.1M966.6 307.2V309.1"/><path stroke="#26a69a" d="M967.1 305.9V309.5"/><path stroke="#ef5350" d="M967.6 306.4V314.3M968.0 310.0V326.3M968.5 320.6V327.5M968.8 322.3V358.0"/><path stroke="#26a69a" d="M968.9 323.6V325.5"/><path stroke="#ef5350" d="M969.4 321.7V330.6M969.8 325.2V335.2M970.2 327.8V339.4M970.7 335.5V346.7M971.1 341.6V348.7"/><path stroke="#26a69a" d="M971.6 343.7V350.4M972.1 338.0V347.3M972.5 332.5V339.0M973.0 327.3V334.6M973.4 325.2V332.2M973.9 322.7V327.8M974.3 315.7V333.3"/><path stroke="#ef5350" d="M974.8 315.5V323.6"/><path stroke="#26a69a" d="M975.2 313.6V320.7M975.6 313.2V316.7M976.1 304.1V320.0M976.6 305.7V310.8M977.0 306.2V310.3"/><path stroke="#ef5350" d="M977.5 304.8V310.8"/><path stroke="#26a69a" d="M977.9 293.2V311.2"/><path stroke="#ef5350" d="M978.4 293.0V308.4"/><path stroke="#26a69a" d="M978.8 298.3V307.8"/><path stroke="#ef5350" d="M979.2 300.3V313.0M979.7 306.9V311.8"/><path stroke="#26a69a" d="M980.1 309.0V312.9"/><path stroke="#ef5350" d="M980.6 308.1V312.0M981.1 309.7V310.8M981.5 308.9V311.6M982.0 309.8V313.7M982.4 308.1V316.0"/><path stroke="#26a69a" d="M982.9 313.3V317.1"/><path stroke="#ef5350" d="M983.3 309.9V326.2"/><path stroke="#26a69a" d="M983.8 310.1V316.8M984.2 306.1V314.1M984.6 306.4V309.5M985.1 302.5V308.4"/><path stroke="#ef5350" d="M985.6 304.7V307.4"/><path stroke="#26a69a" d="M986.0 303.7V306.3"/><path stroke="#ef5350" d="M986.5 300.4V311.4"/><path stroke="#26a69a" d="M986.9 300.8V309.5"/><path stroke="#ef5350" d="M987.4 304.1V310.8"/><path stroke="#26a69a" d="M987.8 294.0V307.4"/><path stroke="#ef5350" d="M988.2 294.9V309.9M988.7 302.0V316.7M989.1 313.1V324.8M989.6 317.6V329.3M990.1 324.4V335.1M990.5 331.2V337.3M991.0 336.2V347.5M991.4 338.9V346.0M991.9 340.5V346.2"/><path stroke="#26a69a" d="M992.3 334.1V349.7M992.8 333.1V341.8M993.2 323.3V336.4M993.6 323.0V330.8M994.1 310.9V325.7M994.6 313.9V319.8M995.0 306.9V319.5M995.5 307.7V314.0M995.9 297.8V308.6M996.4 298.8V300.6"/><path stroke="#ef5350" d="M996.8 298.5V306.6M997.2 295.3V302.7M997.7 298.5V313.7M998.1 310.4V314.4"/><path stroke="#26a69a" d="M998.6 311.2V314.3"/><path stroke="#ef5350" d="M999.1 310.4V314.7"/><path stroke="#26a69a" d="M999.5 306.1V317.4M1000.0 304.9V309.5"/><path stroke="#ef5350" d="M1000.4 303.5V311.3M1000.9 308.1V319.0M1001.3 314.4V339.9"/><path stroke="#26a69a" d="M1001.4 331.0V345.6"/><path stroke="#ef5350" d="M1001.8 337.8V370.8M1002.2 366.5V373.9M1002.6 368.7V375.7M1003.1 370.8V382.5M1003.3 380.8V401.7M1003.6 381.2V391.6"/><path stroke="#26a69a" d="M1004.0 384.2V388.3M1004.5 383.2V385.7M1004.9 377.0V385.3M1005.4 374.7V386.8"/><path stroke="#ef5350" d="M1005.8 371.5V381.6"/><path stroke="#26a69a" d="M1006.2 375.1V380.8"/><path stroke="#ef5350" d="M1006.7 374.9V386.4"/><path stroke="#26a69a" d="M1007.1 376.8V380.1"/><path stroke="#ef5350" d="M1007.6 375.6V382.1M1008.1 375.9V380.5"/><path stroke="#26a69a" d="M1008.5 370.9V384.3"/><path stroke="#ef5350" d="M1009.0 368.7V373.6"/><path stroke="#26a69a" d="M1009.4 372.2V375.7"/><path stroke="#ef5350" d="M1009.9 360.0V378.8"/><path stroke="#26a69a" d="M1010.3 368.5V377.7M1010.8 364.6V373.4M1011.2 367.9V371.0"/><path stroke="#ef5350" d="M1011.6 363.8V383.3"/><path stroke="#26a69a" d="M1012.1 364.8V385.4"/><path stroke="#ef5350" d="M1012.6 362.2V370.0M1013.0 367.1V379.2"/><path stroke="#26a69a" d="M1013.5 361.9V369.9M1013.9 363.3V372.4M1014.4 358.8V366.3"/><path stroke="#ef5350" d="M1014.8 358.5V362.7M1015.2 359.8V364.5"/><path stroke="#26a69a" d="M1015.7 359.8V364.7M1016.1 354.5V363.6"/><path stroke="#ef5350" d="M1016.6 353.3V361.1"/><path stroke="#26a69a" d="M1017.1 351.5V363.4M1017.5 349.5V353.4"/><path stroke="#ef5350" d="M1018.0 348.6V358.8"/><path stroke="#26a69a" d="M1018.4 350.3V357.2M1018.9 348.8V354.3"/><path stroke="#ef5350" d="M1019.3 347.4V359.8"/><path stroke="#26a69a" d="M1019.8 351.3V361.3"/><path stroke="#ef5350" d="M1020.2 351.3V356.1M1020.6 355.6V361.7M1021.1 349.9V360.3M1021.6 357.2V364.0M1022.0 362.1V370.5"/><path stroke="#26a69a" d="M1022.5 366.2V371.1"/><path stroke="#ef5350" d="M1022.9 360.1V374.0"/><path stroke="#26a69a" d="M1023.4 369.3V373.8"/><path stroke="#ef5350" d="M1023.8 369.3V376.8M1024.2 373.6V385.3M1024.7 380.9V388.7M1025.2 384.0V392.5M1025.6 389.2V395.6M1026.1 393.6V401.6M1026.5 392.9V398.7M1027.0 395.8V400.4"/><path stroke="#26a69a" d="M1027.4 395.6V399.7"/><path stroke="#ef5350" d="M1027.8 394.5V407.7M1028.3 404.3V415.7M1028.8 409.8V416.3"/><path stroke="#26a69a" d="M1029.2 411.5V416.8"/><path stroke="#ef5350" d="M1029.2 410.8V418.3"/><path stroke="#26a69a" d="M1029.7 407.0V418.4M1030.1 404.8V410.8M1030.6 402.4V406.8M1031.0 396.6V406.8M1031.5 390.4V402.1M1031.9 384.1V392.4M1032.3 378.2V385.6M1032.8 371.7V386.6M1033.2 368.8V376.4M1033.7 367.2V372.6M1034.2 355.4V371.4"/><path stroke="#ef5350" d="M1034.6 357.9V366.5"/><path stroke="#26a69a" d="M1035.0 359.6V368.7M1035.5 350.2V365.3M1036.0 343.7V355.5M1036.4 347.1V352.7"/><path stroke="#ef5350" d="M1036.9 345.5V349.3"/><path stroke="#26a69a" d="M1037.3 342.1V350.0"/><path stroke="#ef5350" d="M1037.8 340.7V366.2M1038.2 355.2V380.2M1038.7 374.9V381.7M1039.1 376.9V380.6M1039.5 373.6V389.9M1040.0 384.5V386.6"/><path stroke="#26a69a" d="M1040.5 377.2V388.2M1040.9 376.5V385.6"/><path stroke="#ef5350" d="M1041.4 376.9V387.8M1041.8 382.6V386.2"/><path stroke="#26a69a" d="M1042.2 375.8V387.0"/><path stroke="#ef5350" d="M1042.7 369.5V379.3M1043.2 377.4V383.5"/><path stroke="#26a69a" d="M1043.6 376.9V380.0M1044.0 370.6V380.5"/><path stroke="#ef5350" d="M1044.5 372.0V378.8"/><path stroke="#26a69a" d="M1045.0 371.2V375.5"/><path stroke="#ef5350" d="M1045.4 370.3V385.2"/><path stroke="#26a69a" d="M1045.9 378.0V385.7"/><path stroke="#ef5350" d="M1046.3 379.5V386.9M1046.8 384.0V393.0M1047.2 384.4V391.7"/><path stroke="#f59a9a" d="M1047.6 394.0V423.0"/><path stroke="#ef5350" d="M1047.7 386.1V391.7M1048.1 380.9V403.7M1048.5 398.8V414.2M1049.0 410.9V421.7M1049.5 414.9V424.3M1049.9 421.5V428.1M1050.4 421.5V435.2M1050.8 424.9V438.4M1051.2 433.5V440.5M1051.7 435.0V440.6M1051.7 437.5V451.7"/><path stroke="#26a69a" d="M1052.2 431.6V443.9M1052.6 428.9V440.0"/><path stroke="#ef5350" d="M1053.0 434.2V436.9"/><path stroke="#26a69a" d="M1053.5 431.3V440.1"/><path stroke="#ef5350" d="M1054.0 431.3V438.2"/><path stroke="#26a69a" d="M1054.4 429.4V439.1"/><path stroke="#ef5350" d="M1054.9 428.2V432.0"/><path stroke="#26a69a" d="M1055.3 425.3V434.1M1055.8 425.4V429.0"/><path stroke="#ef5350" d="M1056.2 427.4V433.0"/><path stroke="#26a69a" d="M1056.7 424.1V432.2"/><path stroke="#ef5350" d="M1057.1 428.2V435.7"/><path stroke="#26a69a" d="M1057.5 429.3V434.6M1057.6 388.0V394.0"/><path stroke="#f59a9a" d="M1057.6 393.0V420.0"/><path stroke="#ef5350" d="M1058.0 427.9V448.1M1058.5 441.2V446.8"/><path stroke="#26a69a" d="M1058.9 434.2V445.6M1059.4 430.2V437.8"/><path stroke="#ef5350" d="M1059.8 431.3V437.9M1060.2 424.1V434.7"/><path stroke="#26a69a" d="M1060.7 430.3V435.1"/><path stroke="#ef5350" d="M1061.2 425.4V433.9"/><path stroke="#26a69a" d="M1061.6 423.4V432.2"/><path stroke="#ef5350" d="M1062.0 426.8V434.0"/><path stroke="#26a69a" d="M1062.5 423.2V434.3M1063.0 420.1V428.9"/><path stroke="#ef5350" d="M1063.4 414.2V424.9"/><path stroke="#26a69a" d="M1063.9 413.1V427.2M1064.3 411.5V421.3M1064.8 411.1V418.0M1065.2 410.7V413.8M1065.7 404.7V412.4M1066.1 404.1V407.3M1066.5 401.2V408.3M1067.0 399.5V406.0"/><path stroke="#ef5350" d="M1067.5 396.3V405.1M1067.9 402.2V404.6M1068.4 403.6V408.3"/><path stroke="#26a69a" d="M1068.8 401.5V410.2M1069.2 396.9V405.9"/><path stroke="#ef5350" d="M1069.7 400.2V404.4M1070.2 402.2V408.9"/><path stroke="#26a69a" d="M1070.6 397.7V408.7"/><path stroke="#ef5350" d="M1071.0 400.6V409.3"/><path stroke="#26a69a" d="M1071.5 403.3V405.9"/><path stroke="#ef5350" d="M1072.0 402.7V405.4M1072.4 404.5V410.2M1072.9 408.9V415.4M1073.3 410.3V415.1M1073.8 413.8V416.2M1074.2 415.4V422.2"/><path stroke="#26a69a" d="M1074.7 414.3V420.4M1075.1 411.7V419.6M1075.5 412.6V420.6"/><path stroke="#ef5350" d="M1076.0 408.8V424.0"/><path stroke="#26a69a" d="M1076.5 416.7V420.0M1076.9 411.1V419.2M1077.4 406.9V418.2"/><path stroke="#ef5350" d="M1077.8 410.3V413.2M1078.2 410.9V414.5"/><path stroke="#26a69a" d="M1078.7 407.1V415.4"/><path stroke="#ef5350" d="M1079.2 404.6V413.7"/><path stroke="#26a69a" d="M1079.6 404.5V411.4"/><path stroke="#ef5350" d="M1080.0 403.6V409.9M1080.5 399.7V410.3"/><path stroke="#26a69a" d="M1081.0 404.2V411.2"/><path stroke="#ef5350" d="M1081.4 404.6V413.7M1081.9 407.0V409.0"/><path stroke="#26a69a" d="M1082.3 406.0V415.3M1082.8 403.2V411.3"/><path stroke="#ef5350" d="M1083.2 400.3V409.5M1083.7 403.0V411.9M1084.1 406.4V415.6M1084.5 409.7V416.5M1085.0 411.5V418.8"/><path stroke="#26a69a" d="M1085.5 411.8V418.6"/><path stroke="#ef5350" d="M1085.9 413.3V419.6M1086.4 410.7V426.7M1086.8 422.0V431.6M1087.2 428.4V436.8M1087.7 430.4V434.3M1088.2 430.1V441.7M1088.6 433.5V438.2"/><path stroke="#26a69a" d="M1089.0 430.2V436.8"/><path stroke="#ef5350" d="M1089.5 432.4V434.3"/><path stroke="#26a69a" d="M1090.0 431.7V435.6M1090.4 425.7V435.5M1091.3 394.0V435.0"/><path stroke="#ef5350" d="M1092.1 376.0V388.0"/><path stroke="#26a69a" d="M1093.3 369.0V383.0"/><path stroke="#ef5350" d="M1094.6 371.0V386.0"/><path stroke="#26a69a" d="M1095.9 378.0V392.0"/><path stroke="#ef5350" d="M1096.7 380.0V404.0"/><path stroke="#26a69a" d="M1097.6 390.0V403.0"/><path stroke="#ef5350" d="M1098.6 391.0V402.5"/><path stroke="#26a69a" d="M1099.4 398.0V402.5"/></g>
<rect x="389.6" y="636.4" width="45" height="2.4" fill="#a9cbf5" stroke="#2673dc" stroke-width="1"/>
<path d="M425.7 662.8L430 639.3M419.8 645.9L430 639.3L437.3 649" stroke="#3a6ff7" stroke-width="2" fill="none" stroke-linecap="round" stroke-linejoin="round"/>
<g transform="translate(8.9,817.3) scale(0.49)" fill="#131722"><path d="M14 22H7V11H0V4h14v18zM28 22h-8l7.5-18h8L28 22z"/><circle cx="20" cy="8" r="4"/></g>
</svg>
<div class="note">anda di sini..</div>
<div class="brand">TradingView</div>
</body></html>
